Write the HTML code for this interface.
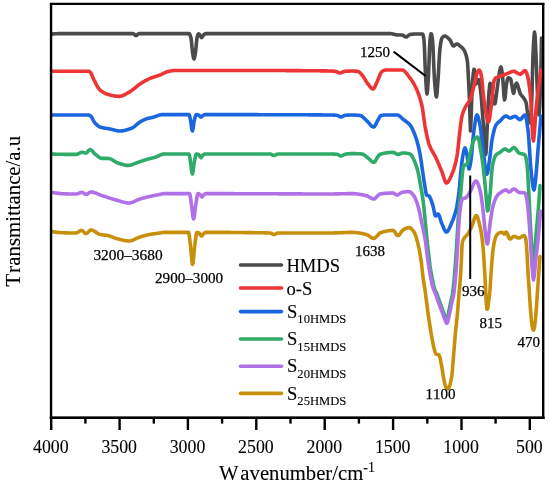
<!DOCTYPE html>
<html><head><meta charset="utf-8"><title>FTIR spectra</title>
<style>html,body{margin:0;padding:0;background:#fff}svg{display:block}</style></head>
<body>
<svg width="550" height="486" viewBox="0 0 550 486">
<rect width="550" height="486" fill="#fff"/>
<path d="M52.0,34.0 L52.5,34.0 L53.0,33.9 L53.5,33.9 L54.0,33.9 L54.5,33.8 L55.0,33.8 L55.5,33.8 L56.0,33.7 L56.5,33.7 L57.0,33.7 L57.5,33.7 L58.0,33.6 L58.5,33.6 L59.0,33.6 L59.5,33.6 L60.0,33.6 L60.5,33.6 L61.0,33.6 L61.5,33.6 L62.0,33.6 L62.5,33.6 L63.0,33.6 L63.5,33.6 L64.0,33.6 L64.5,33.6 L65.0,33.6 L65.5,33.6 L66.0,33.6 L66.5,33.6 L67.0,33.6 L67.5,33.6 L68.0,33.6 L68.5,33.6 L69.0,33.6 L69.5,33.6 L70.0,33.6 L70.5,33.6 L71.0,33.6 L71.5,33.6 L72.0,33.6 L72.5,33.6 L73.0,33.6 L73.5,33.6 L74.0,33.6 L74.5,33.6 L75.0,33.6 L75.5,33.6 L76.0,33.6 L76.5,33.6 L77.0,33.6 L77.5,33.6 L78.0,33.6 L78.5,33.6 L79.0,33.6 L79.5,33.6 L80.0,33.6 L80.5,33.6 L81.0,33.6 L81.5,33.6 L82.0,33.6 L82.5,33.6 L83.0,33.6 L83.5,33.6 L84.0,33.6 L84.5,33.6 L85.0,33.6 L85.5,33.6 L86.0,33.6 L86.5,33.6 L87.0,33.6 L87.5,33.6 L88.0,33.6 L88.5,33.6 L89.0,33.6 L89.5,33.6 L90.0,33.6 L90.5,33.6 L91.0,33.6 L91.5,33.6 L92.0,33.6 L92.5,33.6 L93.0,33.6 L93.5,33.6 L94.0,33.6 L94.5,33.6 L95.0,33.6 L95.5,33.6 L96.0,33.6 L96.5,33.6 L97.0,33.6 L97.5,33.6 L98.0,33.6 L98.5,33.6 L99.0,33.6 L99.5,33.6 L100.0,33.6 L100.5,33.6 L101.0,33.6 L101.5,33.6 L102.0,33.6 L102.5,33.6 L103.0,33.6 L103.5,33.6 L104.0,33.6 L104.5,33.6 L105.0,33.6 L105.5,33.6 L106.0,33.6 L106.5,33.6 L107.0,33.6 L107.5,33.6 L108.0,33.6 L108.5,33.6 L109.0,33.6 L109.5,33.6 L110.0,33.6 L110.5,33.6 L111.0,33.6 L111.5,33.6 L112.0,33.6 L112.5,33.6 L113.0,33.6 L113.5,33.6 L114.0,33.6 L114.5,33.6 L115.0,33.6 L115.5,33.6 L116.0,33.6 L116.5,33.6 L117.0,33.6 L117.5,33.6 L118.0,33.6 L118.5,33.6 L119.0,33.6 L119.5,33.6 L120.0,33.6 L120.5,33.6 L121.0,33.6 L121.5,33.6 L122.0,33.6 L122.5,33.6 L123.0,33.6 L123.5,33.6 L124.0,33.6 L124.5,33.6 L125.0,33.6 L125.5,33.6 L126.0,33.6 L126.5,33.6 L127.0,33.6 L127.5,33.6 L128.0,33.6 L128.5,33.6 L129.0,33.6 L129.5,33.6 L130.0,33.6 L130.5,33.6 L131.0,33.6 L131.5,33.6 L132.0,33.6 L132.5,33.6 L133.0,33.6 L133.5,33.7 L134.0,34.1 L134.5,34.6 L135.0,35.1 L135.5,35.5 L136.0,35.6 L136.5,35.5 L137.0,35.1 L137.5,34.6 L138.0,34.1 L138.5,33.7 L139.0,33.6 L139.5,33.6 L140.0,33.6 L140.5,33.6 L141.0,33.6 L141.5,33.6 L142.0,33.6 L142.5,33.6 L143.0,33.6 L143.5,33.6 L144.0,33.6 L144.5,33.6 L145.0,33.6 L145.5,33.6 L146.0,33.6 L146.5,33.6 L147.0,33.6 L147.5,33.6 L148.0,33.6 L148.5,33.6 L149.0,33.6 L149.5,33.6 L150.0,33.6 L150.5,33.6 L151.0,33.6 L151.5,33.6 L152.0,33.6 L152.5,33.6 L153.0,33.6 L153.5,33.6 L154.0,33.6 L154.5,33.6 L155.0,33.6 L155.5,33.6 L156.0,33.6 L156.5,33.6 L157.0,33.6 L157.5,33.6 L158.0,33.6 L158.5,33.6 L159.0,33.6 L159.5,33.6 L160.0,33.6 L160.5,33.6 L161.0,33.6 L161.5,33.6 L162.0,33.6 L162.5,33.6 L163.0,33.6 L163.5,33.6 L164.0,33.6 L164.5,33.6 L165.0,33.6 L165.5,33.6 L166.0,33.6 L166.5,33.6 L167.0,33.6 L167.5,33.6 L168.0,33.6 L168.5,33.6 L169.0,33.6 L169.5,33.6 L170.0,33.6 L170.5,33.6 L171.0,33.6 L171.5,33.6 L172.0,33.6 L172.5,33.6 L173.0,33.6 L173.5,33.6 L174.0,33.6 L174.5,33.6 L175.0,33.6 L175.5,33.6 L176.0,33.6 L176.5,33.6 L177.0,33.6 L177.5,33.6 L178.0,33.6 L178.5,33.6 L179.0,33.6 L179.5,33.6 L180.0,33.6 L180.5,33.6 L181.0,33.6 L181.5,33.6 L182.0,33.6 L182.5,33.6 L183.0,33.6 L183.5,33.6 L184.0,33.6 L184.5,33.6 L185.0,33.6 L185.5,33.6 L186.0,33.6 L186.5,33.6 L187.0,33.6 L187.5,33.6 L188.0,33.6 L188.5,33.6 L189.0,33.6 L189.5,33.9 L190.0,34.9 L190.5,36.3 L191.0,38.0 L191.5,41.8 L192.0,47.4 L192.5,52.0 L193.0,55.2 L193.5,57.9 L194.0,59.0 L194.5,57.9 L195.0,55.2 L195.5,52.0 L196.0,47.5 L196.5,41.9 L197.0,38.0 L197.5,36.0 L198.0,34.4 L198.5,33.8 L199.0,34.0 L199.5,34.5 L200.0,35.0 L200.5,35.9 L201.0,36.9 L201.5,37.6 L202.0,37.4 L202.5,36.6 L203.0,35.7 L203.5,35.0 L204.0,34.6 L204.5,34.2 L205.0,33.9 L205.5,33.7 L206.0,33.6 L206.5,33.6 L207.0,33.6 L207.5,33.6 L208.0,33.6 L208.5,33.6 L209.0,33.6 L209.5,33.6 L210.0,33.6 L210.5,33.6 L211.0,33.6 L211.5,33.6 L212.0,33.6 L212.5,33.6 L213.0,33.6 L213.5,33.6 L214.0,33.6 L214.5,33.6 L215.0,33.6 L215.5,33.6 L216.0,33.6 L216.5,33.6 L217.0,33.6 L217.5,33.6 L218.0,33.6 L218.5,33.6 L219.0,33.6 L219.5,33.6 L220.0,33.6 L220.5,33.6 L221.0,33.6 L221.5,33.6 L222.0,33.6 L222.5,33.6 L223.0,33.6 L223.5,33.6 L224.0,33.6 L224.5,33.6 L225.0,33.6 L225.5,33.6 L226.0,33.6 L226.5,33.6 L227.0,33.6 L227.5,33.6 L228.0,33.6 L228.5,33.6 L229.0,33.6 L229.5,33.6 L230.0,33.6 L230.5,33.6 L231.0,33.6 L231.5,33.6 L232.0,33.6 L232.5,33.6 L233.0,33.6 L233.5,33.6 L234.0,33.6 L234.5,33.6 L235.0,33.6 L235.5,33.6 L236.0,33.6 L236.5,33.6 L237.0,33.6 L237.5,33.6 L238.0,33.6 L238.5,33.6 L239.0,33.6 L239.5,33.6 L240.0,33.6 L240.5,33.6 L241.0,33.6 L241.5,33.6 L242.0,33.6 L242.5,33.6 L243.0,33.6 L243.5,33.6 L244.0,33.6 L244.5,33.6 L245.0,33.6 L245.5,33.6 L246.0,33.6 L246.5,33.6 L247.0,33.6 L247.5,33.6 L248.0,33.6 L248.5,33.6 L249.0,33.6 L249.5,33.6 L250.0,33.6 L250.5,33.6 L251.0,33.6 L251.5,33.6 L252.0,33.6 L252.5,33.6 L253.0,33.6 L253.5,33.6 L254.0,33.6 L254.5,33.6 L255.0,33.6 L255.5,33.6 L256.0,33.6 L256.5,33.6 L257.0,33.6 L257.5,33.6 L258.0,33.6 L258.5,33.6 L259.0,33.6 L259.5,33.6 L260.0,33.6 L260.5,33.6 L261.0,33.6 L261.5,33.6 L262.0,33.6 L262.5,33.6 L263.0,33.6 L263.5,33.6 L264.0,33.6 L264.5,33.6 L265.0,33.6 L265.5,33.6 L266.0,33.6 L266.5,33.6 L267.0,33.6 L267.5,33.6 L268.0,33.6 L268.5,33.6 L269.0,33.6 L269.5,33.6 L270.0,33.6 L270.5,33.6 L271.0,33.6 L271.5,33.6 L272.0,33.6 L272.5,33.6 L273.0,33.6 L273.5,33.6 L274.0,33.6 L274.5,33.6 L275.0,33.6 L275.5,33.6 L276.0,33.6 L276.5,33.6 L277.0,33.6 L277.5,33.6 L278.0,33.6 L278.5,33.6 L279.0,33.6 L279.5,33.6 L280.0,33.6 L280.5,33.6 L281.0,33.6 L281.5,33.6 L282.0,33.6 L282.5,33.6 L283.0,33.6 L283.5,33.6 L284.0,33.6 L284.5,33.6 L285.0,33.6 L285.5,33.6 L286.0,33.6 L286.5,33.6 L287.0,33.6 L287.5,33.6 L288.0,33.6 L288.5,33.6 L289.0,33.6 L289.5,33.6 L290.0,33.6 L290.5,33.6 L291.0,33.6 L291.5,33.6 L292.0,33.6 L292.5,33.6 L293.0,33.6 L293.5,33.6 L294.0,33.6 L294.5,33.6 L295.0,33.6 L295.5,33.6 L296.0,33.6 L296.5,33.6 L297.0,33.6 L297.5,33.6 L298.0,33.6 L298.5,33.6 L299.0,33.6 L299.5,33.6 L300.0,33.6 L300.5,33.6 L301.0,33.6 L301.5,33.6 L302.0,33.6 L302.5,33.6 L303.0,33.6 L303.5,33.6 L304.0,33.6 L304.5,33.6 L305.0,33.6 L305.5,33.6 L306.0,33.6 L306.5,33.6 L307.0,33.6 L307.5,33.6 L308.0,33.6 L308.5,33.6 L309.0,33.6 L309.5,33.6 L310.0,33.6 L310.5,33.6 L311.0,33.6 L311.5,33.6 L312.0,33.6 L312.5,33.6 L313.0,33.6 L313.5,33.6 L314.0,33.6 L314.5,33.6 L315.0,33.6 L315.5,33.6 L316.0,33.6 L316.5,33.6 L317.0,33.6 L317.5,33.6 L318.0,33.6 L318.5,33.6 L319.0,33.6 L319.5,33.6 L320.0,33.6 L320.5,33.6 L321.0,33.6 L321.5,33.6 L322.0,33.6 L322.5,33.6 L323.0,33.6 L323.5,33.6 L324.0,33.6 L324.5,33.6 L325.0,33.6 L325.5,33.6 L326.0,33.6 L326.5,33.6 L327.0,33.6 L327.5,33.6 L328.0,33.6 L328.5,33.6 L329.0,33.6 L329.5,33.6 L330.0,33.6 L330.5,33.6 L331.0,33.6 L331.5,33.6 L332.0,33.6 L332.5,33.6 L333.0,33.6 L333.5,33.6 L334.0,33.6 L334.5,33.6 L335.0,33.6 L335.5,33.6 L336.0,33.6 L336.5,33.6 L337.0,33.6 L337.5,33.6 L338.0,33.6 L338.5,33.6 L339.0,33.6 L339.5,33.6 L340.0,33.6 L340.5,33.6 L341.0,33.6 L341.5,33.6 L342.0,33.6 L342.5,33.6 L343.0,33.6 L343.5,33.6 L344.0,33.6 L344.5,33.6 L345.0,33.6 L345.5,33.6 L346.0,33.6 L346.5,33.6 L347.0,33.6 L347.5,33.6 L348.0,33.6 L348.5,33.6 L349.0,33.6 L349.5,33.6 L350.0,33.6 L350.5,33.6 L351.0,33.6 L351.5,33.6 L352.0,33.6 L352.5,33.6 L353.0,33.6 L353.5,33.6 L354.0,33.6 L354.5,33.6 L355.0,33.6 L355.5,33.6 L356.0,33.6 L356.5,33.6 L357.0,33.6 L357.5,33.6 L358.0,33.6 L358.5,33.6 L359.0,33.6 L359.5,33.6 L360.0,33.6 L360.5,33.6 L361.0,33.6 L361.5,33.6 L362.0,33.6 L362.5,33.6 L363.0,33.6 L363.5,33.6 L364.0,33.6 L364.5,33.6 L365.0,33.6 L365.5,33.6 L366.0,33.6 L366.5,33.6 L367.0,33.6 L367.5,33.6 L368.0,33.6 L368.5,33.6 L369.0,33.6 L369.5,33.6 L370.0,33.6 L370.5,33.6 L371.0,33.6 L371.5,33.6 L372.0,33.6 L372.5,33.6 L373.0,33.6 L373.5,33.6 L374.0,33.6 L374.5,33.6 L375.0,33.6 L375.5,33.6 L376.0,33.6 L376.5,33.6 L377.0,33.6 L377.5,33.6 L378.0,33.6 L378.5,33.6 L379.0,33.6 L379.5,33.6 L380.0,33.6 L380.5,33.6 L381.0,33.6 L381.5,33.6 L382.0,33.6 L382.5,33.6 L383.0,33.6 L383.5,33.6 L384.0,33.6 L384.5,33.6 L385.0,33.6 L385.5,33.6 L386.0,33.6 L386.5,33.6 L387.0,33.6 L387.5,33.6 L388.0,33.6 L388.5,33.6 L389.0,33.6 L389.5,33.6 L390.0,33.6 L390.5,33.6 L391.0,33.7 L391.5,33.7 L392.0,33.8 L392.5,33.9 L393.0,34.0 L393.5,34.2 L394.0,34.3 L394.5,34.4 L395.0,34.6 L395.5,34.7 L396.0,34.8 L396.5,34.9 L397.0,34.9 L397.5,35.0 L398.0,35.0 L398.5,35.0 L399.0,35.0 L399.5,35.0 L400.0,35.0 L400.5,35.0 L401.0,35.0 L401.5,35.0 L402.0,35.0 L402.5,35.1 L403.0,35.3 L403.5,35.6 L404.0,36.0 L404.5,36.4 L405.0,36.7 L405.5,36.9 L406.0,37.0 L406.5,36.9 L407.0,36.6 L407.5,36.3 L408.0,35.8 L408.5,35.4 L409.0,35.0 L409.5,34.7 L410.0,34.5 L410.5,34.4 L411.0,34.4 L411.5,34.3 L412.0,34.2 L412.5,34.2 L413.0,34.1 L413.5,34.1 L414.0,34.1 L414.5,34.0 L415.0,34.0 L415.5,34.0 L416.0,34.0 L416.5,34.0 L417.0,34.0 L417.5,34.0 L418.0,34.0 L418.5,34.0 L419.0,34.0 L419.5,34.0 L420.0,34.0 L420.5,34.0 L421.0,34.0 L421.5,34.0 L422.0,34.0 L422.5,34.0 L423.0,34.8 L423.5,36.9 L424.0,40.0 L424.5,48.8 L425.0,63.0 L425.5,75.0 L426.0,83.6 L426.5,90.9 L427.0,94.0 L427.5,90.9 L428.0,83.6 L428.5,75.0 L429.0,63.2 L429.5,49.1 L430.0,40.0 L430.5,36.1 L431.0,33.8 L431.5,34.1 L432.0,36.5 L432.5,40.0 L433.0,47.2 L433.5,58.8 L434.0,71.0 L434.5,80.0 L435.0,86.3 L435.5,91.9 L436.0,95.9 L436.5,96.9 L437.0,93.4 L437.5,86.9 L438.0,80.0 L438.5,72.1 L439.0,62.7 L439.5,54.0 L440.0,48.0 L440.5,44.4 L441.0,41.4 L441.5,39.2 L442.0,38.0 L442.5,37.4 L443.0,36.9 L443.5,36.5 L444.0,36.2 L444.5,36.1 L445.0,36.0 L445.5,36.1 L446.0,36.3 L446.5,36.7 L447.0,37.1 L447.5,37.6 L448.0,38.0 L448.5,38.4 L449.0,38.9 L449.5,39.4 L450.0,40.0 L450.5,40.8 L451.0,41.8 L451.5,42.9 L452.0,44.0 L452.5,44.9 L453.0,45.7 L453.5,46.0 L454.0,45.9 L454.5,45.4 L455.0,45.0 L455.5,44.7 L456.0,44.4 L456.5,44.1 L457.0,44.0 L457.5,44.1 L458.0,44.3 L458.5,44.7 L459.0,45.1 L459.5,45.6 L460.0,46.0 L460.5,46.4 L461.0,46.8 L461.5,47.2 L462.0,47.6 L462.5,48.1 L463.0,48.7 L463.5,49.3 L464.0,50.0 L464.5,50.9 L465.0,52.0 L465.5,53.4 L466.0,55.0 L466.5,56.7 L467.0,58.8 L467.5,62.0 L468.0,69.6 L468.5,80.0 L469.0,89.3 L469.5,100.0 L470.0,118.5 L470.5,131.0 L471.0,121.1 L471.5,105.0 L472.0,91.9 L472.5,82.0 L473.0,76.3 L473.5,71.8 L474.0,69.2 L474.5,70.1 L475.0,75.3 L475.5,81.2 L476.0,84.0 L476.5,83.5 L477.0,82.6 L477.5,81.6 L478.0,80.5 L478.5,79.6 L479.0,80.0 L479.5,82.4 L480.0,86.0 L480.5,90.0 L481.0,94.6 L481.5,100.3 L482.0,106.8 L482.5,113.5 L483.0,120.0 L483.5,127.3 L484.0,135.8 L484.5,144.1 L485.0,150.8 L485.5,154.6 L486.0,153.2 L486.5,144.2 L487.0,131.6 L487.5,120.0 L488.0,109.7 L488.5,99.5 L489.0,92.0 L489.5,86.8 L490.0,83.4 L490.5,83.5 L491.0,85.8 L491.5,89.1 L492.0,92.0 L492.5,94.7 L493.0,97.6 L493.5,100.4 L494.0,102.6 L494.5,103.9 L495.0,103.6 L495.5,101.3 L496.0,97.7 L496.5,93.7 L497.0,90.0 L497.5,86.4 L498.0,82.4 L498.5,78.3 L499.0,74.8 L499.5,72.0 L500.0,69.7 L500.5,67.8 L501.0,67.0 L501.5,68.5 L502.0,71.9 L502.5,76.0 L503.0,81.7 L503.5,89.3 L504.0,96.2 L504.5,99.9 L505.0,98.5 L505.5,93.8 L506.0,88.1 L506.5,84.0 L507.0,81.4 L507.5,79.2 L508.0,77.9 L508.5,77.8 L509.0,77.9 L509.5,78.2 L510.0,78.5 L510.5,78.9 L511.0,80.2 L511.5,83.1 L512.0,86.0 L512.5,88.9 L513.0,91.7 L513.5,93.3 L514.0,92.4 L514.5,89.5 L515.0,87.0 L515.5,85.4 L516.0,84.0 L516.5,83.2 L517.0,83.6 L517.5,84.8 L518.0,86.4 L518.5,88.0 L519.0,89.6 L519.5,91.4 L520.0,92.9 L520.5,94.0 L521.0,94.7 L521.5,95.4 L522.0,96.0 L522.5,96.5 L523.0,97.1 L523.5,97.7 L524.0,98.5 L524.5,99.3 L525.0,100.1 L525.5,101.1 L526.0,102.4 L526.5,104.7 L527.0,109.0 L527.5,112.5 L528.0,115.2 L528.5,117.8 L529.0,120.0 L529.5,121.8 L530.0,122.8 L530.5,122.4 L531.0,116.4 L531.5,107.0 L532.0,92.7 L532.5,71.6 L533.0,55.0 L533.5,44.8 L534.0,36.4 L534.5,32.1 L535.0,34.9 L535.5,44.1 L536.0,55.0 L536.5,67.9 L537.0,82.9 L537.5,95.0 L538.0,104.1 L538.5,111.8 L539.0,115.0 L539.5,110.4 L540.0,99.8 L540.5,86.1 L541.0,64.9 L541.5,38.0" fill="none" stroke="#4b4b4b" stroke-width="3.6" stroke-linejoin="round" stroke-linecap="round"/>
<path d="M52.0,71.2 L52.5,71.2 L53.0,71.2 L53.5,71.2 L54.0,71.2 L54.5,71.2 L55.0,71.2 L55.5,71.2 L56.0,71.2 L56.5,71.2 L57.0,71.2 L57.5,71.2 L58.0,71.2 L58.5,71.2 L59.0,71.2 L59.5,71.2 L60.0,71.2 L60.5,71.2 L61.0,71.2 L61.5,71.2 L62.0,71.2 L62.5,71.2 L63.0,71.2 L63.5,71.2 L64.0,71.2 L64.5,71.2 L65.0,71.2 L65.5,71.2 L66.0,71.2 L66.5,71.2 L67.0,71.2 L67.5,71.2 L68.0,71.2 L68.5,71.2 L69.0,71.2 L69.5,71.2 L70.0,71.2 L70.5,71.2 L71.0,71.2 L71.5,71.2 L72.0,71.2 L72.5,71.2 L73.0,71.2 L73.5,71.2 L74.0,71.2 L74.5,71.2 L75.0,71.2 L75.5,71.2 L76.0,71.2 L76.5,71.2 L77.0,71.2 L77.5,71.2 L78.0,71.2 L78.5,71.2 L79.0,71.2 L79.5,71.2 L80.0,71.2 L80.5,71.2 L81.0,71.2 L81.5,71.2 L82.0,71.2 L82.5,71.2 L83.0,71.2 L83.5,71.2 L84.0,71.2 L84.5,71.2 L85.0,71.2 L85.5,71.2 L86.0,71.2 L86.5,71.2 L87.0,71.2 L87.5,71.2 L88.0,71.2 L88.5,71.3 L89.0,71.4 L89.5,71.7 L90.0,72.0 L90.5,72.5 L91.0,73.3 L91.5,74.3 L92.0,75.4 L92.5,76.6 L93.0,77.8 L93.5,79.0 L94.0,80.0 L94.5,80.9 L95.0,81.9 L95.5,82.9 L96.0,83.8 L96.5,84.8 L97.0,85.7 L97.5,86.6 L98.0,87.5 L98.5,88.2 L99.0,88.9 L99.5,89.5 L100.0,90.0 L100.5,90.4 L101.0,90.8 L101.5,91.2 L102.0,91.5 L102.5,91.9 L103.0,92.2 L103.5,92.5 L104.0,92.8 L104.5,93.0 L105.0,93.3 L105.5,93.5 L106.0,93.7 L106.5,93.9 L107.0,94.1 L107.5,94.3 L108.0,94.4 L108.5,94.5 L109.0,94.7 L109.5,94.8 L110.0,95.0 L110.5,95.1 L111.0,95.2 L111.5,95.3 L112.0,95.5 L112.5,95.6 L113.0,95.7 L113.5,95.8 L114.0,95.9 L114.5,96.0 L115.0,96.1 L115.5,96.1 L116.0,96.2 L116.5,96.3 L117.0,96.3 L117.5,96.3 L118.0,96.4 L118.5,96.4 L119.0,96.4 L119.5,96.4 L120.0,96.3 L120.5,96.3 L121.0,96.1 L121.5,96.0 L122.0,95.9 L122.5,95.7 L123.0,95.5 L123.5,95.3 L124.0,95.0 L124.5,94.8 L125.0,94.5 L125.5,94.2 L126.0,93.9 L126.5,93.7 L127.0,93.4 L127.5,93.1 L128.0,92.8 L128.5,92.5 L129.0,92.2 L129.5,91.9 L130.0,91.6 L130.5,91.3 L131.0,91.0 L131.5,90.7 L132.0,90.3 L132.5,89.9 L133.0,89.5 L133.5,89.1 L134.0,88.7 L134.5,88.3 L135.0,87.9 L135.5,87.5 L136.0,87.1 L136.5,86.7 L137.0,86.2 L137.5,85.8 L138.0,85.4 L138.5,85.1 L139.0,84.7 L139.5,84.3 L140.0,84.0 L140.5,83.7 L141.0,83.4 L141.5,83.0 L142.0,82.7 L142.5,82.4 L143.0,82.1 L143.5,81.8 L144.0,81.5 L144.5,81.2 L145.0,80.9 L145.5,80.6 L146.0,80.4 L146.5,80.1 L147.0,79.8 L147.5,79.6 L148.0,79.3 L148.5,79.1 L149.0,78.8 L149.5,78.6 L150.0,78.4 L150.5,78.2 L151.0,78.0 L151.5,77.8 L152.0,77.6 L152.5,77.5 L153.0,77.3 L153.5,77.1 L154.0,77.0 L154.5,76.8 L155.0,76.7 L155.5,76.5 L156.0,76.3 L156.5,76.2 L157.0,76.0 L157.5,75.9 L158.0,75.7 L158.5,75.5 L159.0,75.4 L159.5,75.2 L160.0,75.0 L160.5,74.8 L161.0,74.6 L161.5,74.3 L162.0,74.1 L162.5,73.8 L163.0,73.6 L163.5,73.3 L164.0,73.1 L164.5,72.8 L165.0,72.6 L165.5,72.4 L166.0,72.1 L166.5,71.9 L167.0,71.8 L167.5,71.6 L168.0,71.5 L168.5,71.4 L169.0,71.3 L169.5,71.2 L170.0,71.1 L170.5,71.0 L171.0,70.9 L171.5,70.8 L172.0,70.7 L172.5,70.7 L173.0,70.6 L173.5,70.6 L174.0,70.5 L174.5,70.5 L175.0,70.5 L175.5,70.5 L176.0,70.5 L176.5,70.5 L177.0,70.5 L177.5,70.5 L178.0,70.5 L178.5,70.5 L179.0,70.5 L179.5,70.5 L180.0,70.5 L180.5,70.5 L181.0,70.5 L181.5,70.5 L182.0,70.5 L182.5,70.5 L183.0,70.5 L183.5,70.5 L184.0,70.5 L184.5,70.5 L185.0,70.5 L185.5,70.5 L186.0,70.5 L186.5,70.5 L187.0,70.5 L187.5,70.5 L188.0,70.5 L188.5,70.5 L189.0,70.5 L189.5,70.5 L190.0,70.5 L190.5,70.5 L191.0,70.5 L191.5,70.5 L192.0,70.5 L192.5,70.5 L193.0,70.5 L193.5,70.5 L194.0,70.5 L194.5,70.5 L195.0,70.5 L195.5,70.5 L196.0,70.5 L196.5,70.5 L197.0,70.5 L197.5,70.5 L198.0,70.5 L198.5,70.5 L199.0,70.5 L199.5,70.5 L200.0,70.5 L200.5,70.5 L201.0,70.5 L201.5,70.5 L202.0,70.5 L202.5,70.5 L203.0,70.5 L203.5,70.5 L204.0,70.5 L204.5,70.5 L205.0,70.5 L205.5,70.5 L206.0,70.5 L206.5,70.5 L207.0,70.5 L207.5,70.5 L208.0,70.5 L208.5,70.5 L209.0,70.5 L209.5,70.5 L210.0,70.5 L210.5,70.5 L211.0,70.5 L211.5,70.5 L212.0,70.5 L212.5,70.5 L213.0,70.5 L213.5,70.5 L214.0,70.5 L214.5,70.5 L215.0,70.5 L215.5,70.5 L216.0,70.5 L216.5,70.5 L217.0,70.5 L217.5,70.5 L218.0,70.5 L218.5,70.5 L219.0,70.5 L219.5,70.5 L220.0,70.5 L220.5,70.5 L221.0,70.5 L221.5,70.5 L222.0,70.5 L222.5,70.5 L223.0,70.5 L223.5,70.5 L224.0,70.5 L224.5,70.5 L225.0,70.5 L225.5,70.5 L226.0,70.5 L226.5,70.5 L227.0,70.5 L227.5,70.5 L228.0,70.5 L228.5,70.5 L229.0,70.5 L229.5,70.5 L230.0,70.5 L230.5,70.5 L231.0,70.5 L231.5,70.5 L232.0,70.5 L232.5,70.5 L233.0,70.5 L233.5,70.5 L234.0,70.5 L234.5,70.5 L235.0,70.5 L235.5,70.5 L236.0,70.5 L236.5,70.5 L237.0,70.5 L237.5,70.5 L238.0,70.5 L238.5,70.5 L239.0,70.5 L239.5,70.5 L240.0,70.5 L240.5,70.5 L241.0,70.5 L241.5,70.5 L242.0,70.5 L242.5,70.5 L243.0,70.5 L243.5,70.5 L244.0,70.5 L244.5,70.5 L245.0,70.5 L245.5,70.5 L246.0,70.5 L246.5,70.5 L247.0,70.5 L247.5,70.5 L248.0,70.5 L248.5,70.5 L249.0,70.5 L249.5,70.5 L250.0,70.5 L250.5,70.5 L251.0,70.5 L251.5,70.5 L252.0,70.5 L252.5,70.5 L253.0,70.5 L253.5,70.5 L254.0,70.5 L254.5,70.5 L255.0,70.5 L255.5,70.5 L256.0,70.5 L256.5,70.5 L257.0,70.5 L257.5,70.5 L258.0,70.5 L258.5,70.5 L259.0,70.5 L259.5,70.5 L260.0,70.5 L260.5,70.5 L261.0,70.5 L261.5,70.5 L262.0,70.5 L262.5,70.5 L263.0,70.5 L263.5,70.5 L264.0,70.5 L264.5,70.5 L265.0,70.5 L265.5,70.5 L266.0,70.5 L266.5,70.5 L267.0,70.5 L267.5,70.5 L268.0,70.5 L268.5,70.5 L269.0,70.5 L269.5,70.5 L270.0,70.5 L270.5,70.5 L271.0,70.5 L271.5,70.5 L272.0,70.5 L272.5,70.5 L273.0,70.5 L273.5,70.5 L274.0,70.5 L274.5,70.5 L275.0,70.5 L275.5,70.5 L276.0,70.5 L276.5,70.5 L277.0,70.5 L277.5,70.5 L278.0,70.5 L278.5,70.5 L279.0,70.5 L279.5,70.5 L280.0,70.5 L280.5,70.5 L281.0,70.5 L281.5,70.5 L282.0,70.5 L282.5,70.5 L283.0,70.5 L283.5,70.5 L284.0,70.5 L284.5,70.5 L285.0,70.5 L285.5,70.5 L286.0,70.6 L286.5,70.6 L287.0,70.6 L287.5,70.6 L288.0,70.6 L288.5,70.6 L289.0,70.6 L289.5,70.6 L290.0,70.6 L290.5,70.6 L291.0,70.6 L291.5,70.6 L292.0,70.6 L292.5,70.6 L293.0,70.6 L293.5,70.6 L294.0,70.6 L294.5,70.6 L295.0,70.6 L295.5,70.6 L296.0,70.6 L296.5,70.6 L297.0,70.6 L297.5,70.6 L298.0,70.6 L298.5,70.6 L299.0,70.6 L299.5,70.6 L300.0,70.6 L300.5,70.6 L301.0,70.6 L301.5,70.6 L302.0,70.7 L302.5,70.7 L303.0,70.7 L303.5,70.7 L304.0,70.7 L304.5,70.7 L305.0,70.7 L305.5,70.7 L306.0,70.7 L306.5,70.7 L307.0,70.7 L307.5,70.7 L308.0,70.7 L308.5,70.7 L309.0,70.7 L309.5,70.7 L310.0,70.7 L310.5,70.7 L311.0,70.7 L311.5,70.7 L312.0,70.7 L312.5,70.8 L313.0,70.8 L313.5,70.8 L314.0,70.8 L314.5,70.8 L315.0,70.8 L315.5,70.8 L316.0,70.8 L316.5,70.8 L317.0,70.8 L317.5,70.8 L318.0,70.8 L318.5,70.8 L319.0,70.8 L319.5,70.8 L320.0,70.8 L320.5,70.9 L321.0,70.9 L321.5,70.9 L322.0,70.9 L322.5,70.9 L323.0,70.9 L323.5,70.9 L324.0,70.9 L324.5,70.9 L325.0,70.9 L325.5,70.9 L326.0,70.9 L326.5,70.9 L327.0,70.9 L327.5,71.0 L328.0,71.0 L328.5,71.0 L329.0,71.0 L329.5,71.0 L330.0,71.0 L330.5,71.0 L331.0,71.0 L331.5,71.1 L332.0,71.1 L332.5,71.1 L333.0,71.2 L333.5,71.2 L334.0,71.3 L334.5,71.3 L335.0,71.4 L335.5,71.4 L336.0,71.5 L336.5,71.6 L337.0,71.8 L337.5,72.1 L338.0,72.3 L338.5,72.6 L339.0,72.8 L339.5,72.9 L340.0,73.0 L340.5,72.9 L341.0,72.8 L341.5,72.6 L342.0,72.3 L342.5,72.0 L343.0,71.8 L343.5,71.6 L344.0,71.5 L344.5,71.4 L345.0,71.4 L345.5,71.3 L346.0,71.3 L346.5,71.2 L347.0,71.2 L347.5,71.2 L348.0,71.1 L348.5,71.1 L349.0,71.1 L349.5,71.1 L350.0,71.0 L350.5,71.0 L351.0,71.0 L351.5,71.0 L352.0,71.0 L352.5,71.0 L353.0,71.0 L353.5,71.0 L354.0,71.1 L354.5,71.1 L355.0,71.1 L355.5,71.2 L356.0,71.2 L356.5,71.3 L357.0,71.4 L357.5,71.4 L358.0,71.5 L358.5,71.7 L359.0,71.9 L359.5,72.3 L360.0,72.8 L360.5,73.3 L361.0,73.9 L361.5,74.4 L362.0,75.0 L362.5,75.6 L363.0,76.3 L363.5,77.0 L364.0,77.8 L364.5,78.6 L365.0,79.4 L365.5,80.3 L366.0,81.1 L366.5,81.9 L367.0,82.7 L367.5,83.4 L368.0,84.0 L368.5,84.6 L369.0,85.3 L369.5,86.0 L370.0,86.6 L370.5,87.2 L371.0,87.8 L371.5,88.3 L372.0,88.7 L372.5,88.9 L373.0,89.0 L373.5,88.8 L374.0,88.3 L374.5,87.5 L375.0,86.5 L375.5,85.3 L376.0,84.2 L376.5,83.0 L377.0,82.0 L377.5,81.0 L378.0,79.8 L378.5,78.5 L379.0,77.2 L379.5,75.9 L380.0,74.7 L380.5,73.6 L381.0,72.7 L381.5,72.0 L382.0,71.5 L382.5,71.2 L383.0,70.9 L383.5,70.7 L384.0,70.4 L384.5,70.3 L385.0,70.1 L385.5,70.0 L386.0,70.0 L386.5,70.0 L387.0,70.0 L387.5,70.0 L388.0,70.0 L388.5,70.0 L389.0,70.0 L389.5,70.0 L390.0,70.0 L390.5,70.0 L391.0,70.0 L391.5,70.0 L392.0,70.0 L392.5,70.0 L393.0,70.0 L393.5,70.0 L394.0,70.0 L394.5,70.0 L395.0,70.0 L395.5,70.0 L396.0,70.0 L396.5,70.0 L397.0,70.0 L397.5,70.0 L398.0,70.0 L398.5,70.0 L399.0,70.0 L399.5,70.0 L400.0,70.0 L400.5,70.0 L401.0,70.0 L401.5,70.0 L402.0,70.0 L402.5,70.1 L403.0,70.2 L403.5,70.4 L404.0,70.8 L404.5,71.2 L405.0,71.6 L405.5,72.2 L406.0,72.7 L406.5,73.3 L407.0,74.0 L407.5,74.6 L408.0,75.3 L408.5,76.0 L409.0,76.7 L409.5,77.4 L410.0,78.0 L410.5,78.6 L411.0,79.3 L411.5,80.0 L412.0,80.8 L412.5,81.5 L413.0,82.3 L413.5,83.2 L414.0,84.1 L414.5,85.0 L415.0,85.9 L415.5,87.0 L416.0,88.0 L416.5,89.1 L417.0,90.2 L417.5,91.4 L418.0,92.7 L418.5,94.0 L419.0,95.4 L419.5,96.9 L420.0,98.4 L420.5,100.1 L421.0,102.0 L421.5,103.9 L422.0,106.0 L422.5,108.6 L423.0,111.9 L423.5,115.6 L424.0,119.4 L424.5,122.9 L425.0,126.0 L425.5,128.7 L426.0,131.3 L426.5,133.9 L427.0,136.3 L427.5,138.5 L428.0,140.6 L428.5,142.4 L429.0,144.0 L429.5,145.4 L430.0,146.6 L430.5,147.8 L431.0,148.8 L431.5,149.8 L432.0,150.7 L432.5,151.6 L433.0,152.5 L433.5,153.3 L434.0,154.2 L434.5,155.1 L435.0,156.0 L435.5,157.0 L436.0,158.0 L436.5,159.1 L437.0,160.2 L437.5,161.3 L438.0,162.5 L438.5,163.6 L439.0,164.8 L439.5,166.0 L440.0,167.2 L440.5,168.4 L441.0,169.6 L441.5,170.8 L442.0,172.0 L442.5,173.3 L443.0,174.9 L443.5,176.5 L444.0,178.2 L444.5,179.7 L445.0,181.1 L445.5,182.2 L446.0,182.8 L446.5,183.0 L447.0,182.8 L447.5,182.5 L448.0,181.9 L448.5,181.3 L449.0,180.4 L449.5,179.5 L450.0,178.5 L450.5,177.4 L451.0,176.3 L451.5,175.1 L452.0,174.0 L452.5,172.8 L453.0,171.5 L453.5,170.1 L454.0,168.6 L454.5,166.9 L455.0,165.1 L455.5,163.1 L456.0,160.9 L456.5,158.5 L457.0,156.0 L457.5,152.8 L458.0,148.6 L458.5,143.9 L459.0,139.0 L459.5,134.2 L460.0,130.0 L460.5,126.0 L461.0,122.0 L461.5,118.6 L462.0,116.0 L462.5,114.2 L463.0,112.6 L463.5,111.2 L464.0,110.0 L464.5,108.9 L465.0,107.9 L465.5,106.9 L466.0,106.0 L466.5,105.1 L467.0,104.4 L467.5,103.7 L468.0,103.1 L468.5,102.5 L469.0,101.8 L469.5,101.0 L470.0,100.0 L470.5,98.8 L471.0,97.4 L471.5,95.7 L472.0,93.9 L472.5,92.0 L473.0,90.0 L473.5,88.0 L474.0,86.0 L474.5,83.8 L475.0,81.4 L475.5,78.8 L476.0,76.5 L476.5,74.4 L477.0,73.0 L477.5,71.9 L478.0,71.0 L478.5,70.3 L479.0,70.0 L479.5,70.3 L480.0,71.2 L480.5,72.5 L481.0,74.0 L481.5,76.6 L482.0,80.7 L482.5,85.8 L483.0,91.1 L483.5,96.1 L484.0,100.0 L484.5,103.3 L485.0,106.6 L485.5,110.0 L486.0,113.1 L486.5,116.0 L487.0,118.4 L487.5,120.3 L488.0,121.6 L488.5,122.0 L489.0,121.1 L489.5,118.8 L490.0,115.5 L490.5,111.7 L491.0,108.0 L491.5,103.7 L492.0,98.7 L492.5,94.0 L493.0,89.4 L493.5,84.7 L494.0,81.1 L494.5,79.6 L495.0,78.8 L495.5,78.2 L496.0,77.8 L496.5,77.5 L497.0,77.3 L497.5,77.1 L498.0,76.9 L498.5,76.7 L499.0,76.5 L499.5,76.3 L500.0,76.1 L500.5,76.0 L501.0,75.8 L501.5,75.6 L502.0,75.5 L502.5,75.3 L503.0,75.1 L503.5,75.0 L504.0,74.8 L504.5,74.6 L505.0,74.4 L505.5,74.2 L506.0,74.1 L506.5,73.9 L507.0,73.7 L507.5,73.5 L508.0,73.3 L508.5,73.1 L509.0,72.9 L509.5,72.7 L510.0,72.5 L510.5,72.2 L511.0,72.0 L511.5,71.7 L512.0,71.5 L512.5,71.4 L513.0,71.3 L513.5,71.2 L514.0,71.2 L514.5,71.4 L515.0,71.7 L515.5,72.0 L516.0,72.3 L516.5,72.6 L517.0,72.9 L517.5,73.1 L518.0,73.4 L518.5,73.7 L519.0,73.9 L519.5,74.1 L520.0,74.2 L520.5,74.2 L521.0,73.9 L521.5,73.6 L522.0,73.1 L522.5,72.5 L523.0,72.0 L523.5,71.4 L524.0,71.0 L524.5,70.7 L525.0,70.6 L525.5,70.9 L526.0,71.7 L526.5,72.8 L527.0,74.2 L527.5,75.7 L528.0,77.8 L528.5,80.4 L529.0,83.6 L529.5,87.2 L530.0,91.6 L530.5,96.8 L531.0,103.0 L531.5,112.4 L532.0,124.0 L532.5,133.0 L533.0,139.0 L533.5,141.0 L534.0,136.5 L534.5,130.7 L535.0,123.8 L535.5,116.4 L536.0,110.0 L536.5,104.9 L537.0,100.3 L537.5,96.0 L538.0,92.0 L538.5,88.0 L539.0,84.1 L539.5,80.3 L540.0,76.7 L540.5,73.3 L541.0,70.0" fill="none" stroke="#ee3535" stroke-width="3.6" stroke-linejoin="round" stroke-linecap="round"/>
<path d="M52.0,115.0 L52.5,115.0 L53.0,115.0 L53.5,115.0 L54.0,115.0 L54.5,115.0 L55.0,115.0 L55.5,115.0 L56.0,115.0 L56.5,115.0 L57.0,115.0 L57.5,115.0 L58.0,115.0 L58.5,115.0 L59.0,115.0 L59.5,115.0 L60.0,115.0 L60.5,115.0 L61.0,115.0 L61.5,115.0 L62.0,115.0 L62.5,115.0 L63.0,115.0 L63.5,115.0 L64.0,115.0 L64.5,115.0 L65.0,115.0 L65.5,115.0 L66.0,115.0 L66.5,115.0 L67.0,115.0 L67.5,115.0 L68.0,115.0 L68.5,115.0 L69.0,115.0 L69.5,115.0 L70.0,115.0 L70.5,115.0 L71.0,115.0 L71.5,115.0 L72.0,115.0 L72.5,115.0 L73.0,115.0 L73.5,115.0 L74.0,115.0 L74.5,115.0 L75.0,115.0 L75.5,115.0 L76.0,115.0 L76.5,115.0 L77.0,115.0 L77.5,115.0 L78.0,115.0 L78.5,115.0 L79.0,115.0 L79.5,115.0 L80.0,115.0 L80.5,115.0 L81.0,115.0 L81.5,115.0 L82.0,115.0 L82.5,115.0 L83.0,115.0 L83.5,115.0 L84.0,115.0 L84.5,115.0 L85.0,115.0 L85.5,115.0 L86.0,115.0 L86.5,115.0 L87.0,115.0 L87.5,115.0 L88.0,115.0 L88.5,115.0 L89.0,115.2 L89.5,115.3 L90.0,115.5 L90.5,115.8 L91.0,116.4 L91.5,117.1 L92.0,117.9 L92.5,118.8 L93.0,119.8 L93.5,120.7 L94.0,121.6 L94.5,122.4 L95.0,123.0 L95.5,123.5 L96.0,124.0 L96.5,124.5 L97.0,125.0 L97.5,125.4 L98.0,125.8 L98.5,126.2 L99.0,126.5 L99.5,126.8 L100.0,127.0 L100.5,127.2 L101.0,127.3 L101.5,127.5 L102.0,127.6 L102.5,127.7 L103.0,127.8 L103.5,127.9 L104.0,128.0 L104.5,128.1 L105.0,128.2 L105.5,128.3 L106.0,128.3 L106.5,128.4 L107.0,128.5 L107.5,128.6 L108.0,128.6 L108.5,128.7 L109.0,128.8 L109.5,128.9 L110.0,129.0 L110.5,129.1 L111.0,129.2 L111.5,129.3 L112.0,129.5 L112.5,129.6 L113.0,129.7 L113.5,129.9 L114.0,130.0 L114.5,130.1 L115.0,130.2 L115.5,130.4 L116.0,130.5 L116.5,130.6 L117.0,130.7 L117.5,130.8 L118.0,130.9 L118.5,130.9 L119.0,131.0 L119.5,131.0 L120.0,131.0 L120.5,131.0 L121.0,131.0 L121.5,130.9 L122.0,130.9 L122.5,130.8 L123.0,130.7 L123.5,130.7 L124.0,130.6 L124.5,130.5 L125.0,130.3 L125.5,130.2 L126.0,130.1 L126.5,129.9 L127.0,129.8 L127.5,129.6 L128.0,129.5 L128.5,129.3 L129.0,129.1 L129.5,128.9 L130.0,128.8 L130.5,128.6 L131.0,128.4 L131.5,128.2 L132.0,128.0 L132.5,127.8 L133.0,127.5 L133.5,127.2 L134.0,126.8 L134.5,126.5 L135.0,126.1 L135.5,125.6 L136.0,125.2 L136.5,124.8 L137.0,124.3 L137.5,123.9 L138.0,123.5 L138.5,123.1 L139.0,122.7 L139.5,122.3 L140.0,122.0 L140.5,121.7 L141.0,121.4 L141.5,121.1 L142.0,120.8 L142.5,120.6 L143.0,120.3 L143.5,120.1 L144.0,119.8 L144.5,119.6 L145.0,119.4 L145.5,119.2 L146.0,119.0 L146.5,118.8 L147.0,118.7 L147.5,118.5 L148.0,118.4 L148.5,118.3 L149.0,118.2 L149.5,118.0 L150.0,117.9 L150.5,117.8 L151.0,117.7 L151.5,117.6 L152.0,117.5 L152.5,117.4 L153.0,117.3 L153.5,117.1 L154.0,117.0 L154.5,116.9 L155.0,116.7 L155.5,116.5 L156.0,116.3 L156.5,116.1 L157.0,115.9 L157.5,115.7 L158.0,115.5 L158.5,115.3 L159.0,115.2 L159.5,115.0 L160.0,114.9 L160.5,114.8 L161.0,114.7 L161.5,114.6 L162.0,114.6 L162.5,114.6 L163.0,114.6 L163.5,114.6 L164.0,114.6 L164.5,114.6 L165.0,114.6 L165.5,114.6 L166.0,114.6 L166.5,114.6 L167.0,114.6 L167.5,114.6 L168.0,114.6 L168.5,114.6 L169.0,114.6 L169.5,114.6 L170.0,114.6 L170.5,114.6 L171.0,114.6 L171.5,114.6 L172.0,114.6 L172.5,114.6 L173.0,114.6 L173.5,114.6 L174.0,114.6 L174.5,114.6 L175.0,114.6 L175.5,114.6 L176.0,114.6 L176.5,114.6 L177.0,114.6 L177.5,114.6 L178.0,114.6 L178.5,114.6 L179.0,114.6 L179.5,114.6 L180.0,114.6 L180.5,114.6 L181.0,114.6 L181.5,114.6 L182.0,114.6 L182.5,114.6 L183.0,114.6 L183.5,114.6 L184.0,114.6 L184.5,114.6 L185.0,114.6 L185.5,114.6 L186.0,114.6 L186.5,114.6 L187.0,114.6 L187.5,114.6 L188.0,114.6 L188.5,114.6 L189.0,114.6 L189.5,115.5 L190.0,117.6 L190.5,120.0 L191.0,123.1 L191.5,126.9 L192.0,130.0 L192.5,130.9 L193.0,128.9 L193.5,125.2 L194.0,121.5 L194.5,119.3 L195.0,117.5 L195.5,115.9 L196.0,114.9 L196.5,114.6 L197.0,114.6 L197.5,114.7 L198.0,114.9 L198.5,115.0 L199.0,115.3 L199.5,115.8 L200.0,116.4 L200.5,116.8 L201.0,117.0 L201.5,116.8 L202.0,116.4 L202.5,115.9 L203.0,115.5 L203.5,115.2 L204.0,114.9 L204.5,114.7 L205.0,114.6 L205.5,114.6 L206.0,114.6 L206.5,114.6 L207.0,114.6 L207.5,114.6 L208.0,114.6 L208.5,114.6 L209.0,114.6 L209.5,114.6 L210.0,114.6 L210.5,114.6 L211.0,114.6 L211.5,114.6 L212.0,114.6 L212.5,114.6 L213.0,114.6 L213.5,114.6 L214.0,114.6 L214.5,114.6 L215.0,114.6 L215.5,114.6 L216.0,114.6 L216.5,114.6 L217.0,114.6 L217.5,114.6 L218.0,114.6 L218.5,114.6 L219.0,114.6 L219.5,114.6 L220.0,114.6 L220.5,114.6 L221.0,114.6 L221.5,114.6 L222.0,114.6 L222.5,114.6 L223.0,114.6 L223.5,114.6 L224.0,114.6 L224.5,114.6 L225.0,114.6 L225.5,114.6 L226.0,114.6 L226.5,114.6 L227.0,114.6 L227.5,114.6 L228.0,114.6 L228.5,114.6 L229.0,114.6 L229.5,114.6 L230.0,114.6 L230.5,114.6 L231.0,114.6 L231.5,114.6 L232.0,114.6 L232.5,114.6 L233.0,114.6 L233.5,114.6 L234.0,114.6 L234.5,114.6 L235.0,114.6 L235.5,114.6 L236.0,114.6 L236.5,114.6 L237.0,114.6 L237.5,114.6 L238.0,114.6 L238.5,114.6 L239.0,114.6 L239.5,114.6 L240.0,114.6 L240.5,114.6 L241.0,114.6 L241.5,114.6 L242.0,114.6 L242.5,114.6 L243.0,114.6 L243.5,114.6 L244.0,114.6 L244.5,114.6 L245.0,114.6 L245.5,114.6 L246.0,114.6 L246.5,114.6 L247.0,114.6 L247.5,114.6 L248.0,114.6 L248.5,114.6 L249.0,114.6 L249.5,114.6 L250.0,114.6 L250.5,114.6 L251.0,114.6 L251.5,114.6 L252.0,114.6 L252.5,114.6 L253.0,114.6 L253.5,114.6 L254.0,114.6 L254.5,114.6 L255.0,114.6 L255.5,114.6 L256.0,114.6 L256.5,114.6 L257.0,114.6 L257.5,114.6 L258.0,114.7 L258.5,114.7 L259.0,114.7 L259.5,114.7 L260.0,114.7 L260.5,114.7 L261.0,114.7 L261.5,114.7 L262.0,114.7 L262.5,114.7 L263.0,114.7 L263.5,114.7 L264.0,114.7 L264.5,114.7 L265.0,114.7 L265.5,114.7 L266.0,114.7 L266.5,114.7 L267.0,114.7 L267.5,114.7 L268.0,114.7 L268.5,114.7 L269.0,114.7 L269.5,114.7 L270.0,114.7 L270.5,114.7 L271.0,114.7 L271.5,114.7 L272.0,114.7 L272.5,114.7 L273.0,114.7 L273.5,114.7 L274.0,114.7 L274.5,114.7 L275.0,114.7 L275.5,114.7 L276.0,114.7 L276.5,114.7 L277.0,114.7 L277.5,114.7 L278.0,114.7 L278.5,114.7 L279.0,114.7 L279.5,114.7 L280.0,114.7 L280.5,114.7 L281.0,114.7 L281.5,114.7 L282.0,114.7 L282.5,114.7 L283.0,114.7 L283.5,114.7 L284.0,114.7 L284.5,114.7 L285.0,114.7 L285.5,114.7 L286.0,114.7 L286.5,114.7 L287.0,114.7 L287.5,114.7 L288.0,114.7 L288.5,114.7 L289.0,114.8 L289.5,114.8 L290.0,114.8 L290.5,114.8 L291.0,114.8 L291.5,114.8 L292.0,114.8 L292.5,114.8 L293.0,114.8 L293.5,114.8 L294.0,114.8 L294.5,114.8 L295.0,114.8 L295.5,114.8 L296.0,114.8 L296.5,114.8 L297.0,114.8 L297.5,114.8 L298.0,114.8 L298.5,114.8 L299.0,114.8 L299.5,114.8 L300.0,114.8 L300.5,114.8 L301.0,114.8 L301.5,114.8 L302.0,114.8 L302.5,114.8 L303.0,114.8 L303.5,114.8 L304.0,114.8 L304.5,114.8 L305.0,114.8 L305.5,114.8 L306.0,114.8 L306.5,114.8 L307.0,114.8 L307.5,114.8 L308.0,114.8 L308.5,114.9 L309.0,114.9 L309.5,114.9 L310.0,114.9 L310.5,114.9 L311.0,114.9 L311.5,114.9 L312.0,114.9 L312.5,114.9 L313.0,114.9 L313.5,114.9 L314.0,114.9 L314.5,114.9 L315.0,114.9 L315.5,114.9 L316.0,114.9 L316.5,114.9 L317.0,114.9 L317.5,114.9 L318.0,114.9 L318.5,114.9 L319.0,114.9 L319.5,114.9 L320.0,114.9 L320.5,114.9 L321.0,114.9 L321.5,114.9 L322.0,114.9 L322.5,114.9 L323.0,114.9 L323.5,115.0 L324.0,115.0 L324.5,115.0 L325.0,115.0 L325.5,115.0 L326.0,115.0 L326.5,115.0 L327.0,115.0 L327.5,115.0 L328.0,115.0 L328.5,115.0 L329.0,115.0 L329.5,115.0 L330.0,115.0 L330.5,115.0 L331.0,115.0 L331.5,115.0 L332.0,115.0 L332.5,115.0 L333.0,115.1 L333.5,115.1 L334.0,115.1 L334.5,115.1 L335.0,115.2 L335.5,115.2 L336.0,115.2 L336.5,115.3 L337.0,115.3 L337.5,115.4 L338.0,115.6 L338.5,115.9 L339.0,116.2 L339.5,116.5 L340.0,116.8 L340.5,116.9 L341.0,117.0 L341.5,116.9 L342.0,116.8 L342.5,116.5 L343.0,116.2 L343.5,115.9 L344.0,115.6 L344.5,115.4 L345.0,115.3 L345.5,115.3 L346.0,115.2 L346.5,115.2 L347.0,115.2 L347.5,115.1 L348.0,115.1 L348.5,115.1 L349.0,115.1 L349.5,115.0 L350.0,115.0 L350.5,115.0 L351.0,115.0 L351.5,115.0 L352.0,115.0 L352.5,115.0 L353.0,115.0 L353.5,115.0 L354.0,115.0 L354.5,115.1 L355.0,115.1 L355.5,115.1 L356.0,115.1 L356.5,115.2 L357.0,115.2 L357.5,115.2 L358.0,115.3 L358.5,115.3 L359.0,115.4 L359.5,115.4 L360.0,115.5 L360.5,115.6 L361.0,115.8 L361.5,116.0 L362.0,116.4 L362.5,116.7 L363.0,117.2 L363.5,117.6 L364.0,118.1 L364.5,118.6 L365.0,119.1 L365.5,119.6 L366.0,120.1 L366.5,120.6 L367.0,121.0 L367.5,121.5 L368.0,122.0 L368.5,122.5 L369.0,123.1 L369.5,123.7 L370.0,124.3 L370.5,124.9 L371.0,125.5 L371.5,125.9 L372.0,126.4 L372.5,126.7 L373.0,126.9 L373.5,127.0 L374.0,126.9 L374.5,126.5 L375.0,125.8 L375.5,124.9 L376.0,123.9 L376.5,122.9 L377.0,121.8 L377.5,120.8 L378.0,120.0 L378.5,119.2 L379.0,118.2 L379.5,117.3 L380.0,116.5 L380.5,115.9 L381.0,115.6 L381.5,115.5 L382.0,115.3 L382.5,115.2 L383.0,115.2 L383.5,115.1 L384.0,115.0 L384.5,115.0 L385.0,115.0 L385.5,115.0 L386.0,115.0 L386.5,115.0 L387.0,115.0 L387.5,115.0 L388.0,115.0 L388.5,115.0 L389.0,115.0 L389.5,115.0 L390.0,115.0 L390.5,115.0 L391.0,115.0 L391.5,115.0 L392.0,115.0 L392.5,115.0 L393.0,115.0 L393.5,115.0 L394.0,115.0 L394.5,115.0 L395.0,115.0 L395.5,115.0 L396.0,115.0 L396.5,115.0 L397.0,115.0 L397.5,115.0 L398.0,115.2 L398.5,115.4 L399.0,115.7 L399.5,116.0 L400.0,116.4 L400.5,116.8 L401.0,117.3 L401.5,117.7 L402.0,118.2 L402.5,118.7 L403.0,119.2 L403.5,119.6 L404.0,120.0 L404.5,120.4 L405.0,120.7 L405.5,121.1 L406.0,121.4 L406.5,121.8 L407.0,122.2 L407.5,122.6 L408.0,123.0 L408.5,123.4 L409.0,123.9 L409.5,124.4 L410.0,125.0 L410.5,125.7 L411.0,126.4 L411.5,127.2 L412.0,128.2 L412.5,129.2 L413.0,130.3 L413.5,131.4 L414.0,132.6 L414.5,133.9 L415.0,135.2 L415.5,136.6 L416.0,138.0 L416.5,139.5 L417.0,141.2 L417.5,143.0 L418.0,144.9 L418.5,147.0 L419.0,149.2 L419.5,151.5 L420.0,154.0 L420.5,156.8 L421.0,160.0 L421.5,163.4 L422.0,167.0 L422.5,170.6 L423.0,174.0 L423.5,177.3 L424.0,180.7 L424.5,183.9 L425.0,187.0 L425.5,190.3 L426.0,193.4 L426.5,195.0 L427.0,195.3 L427.5,195.5 L428.0,195.6 L428.5,195.8 L429.0,196.0 L429.5,196.5 L430.0,197.4 L430.5,198.5 L431.0,199.8 L431.5,201.3 L432.0,202.8 L432.5,204.4 L433.0,206.0 L433.5,208.0 L434.0,210.5 L434.5,213.0 L435.0,215.0 L435.5,216.0 L436.0,215.9 L436.5,215.4 L437.0,214.8 L437.5,214.2 L438.0,214.0 L438.5,214.3 L439.0,215.2 L439.5,216.4 L440.0,217.9 L440.5,219.6 L441.0,221.3 L441.5,222.8 L442.0,224.0 L442.5,225.1 L443.0,226.3 L443.5,227.5 L444.0,228.7 L444.5,229.8 L445.0,230.7 L445.5,231.4 L446.0,231.9 L446.5,232.0 L447.0,231.8 L447.5,231.4 L448.0,230.8 L448.5,230.0 L449.0,229.0 L449.5,227.9 L450.0,226.8 L450.5,225.6 L451.0,224.4 L451.5,223.2 L452.0,222.0 L452.5,220.8 L453.0,219.6 L453.5,218.3 L454.0,216.9 L454.5,215.4 L455.0,213.7 L455.5,211.9 L456.0,210.0 L456.5,207.8 L457.0,205.3 L457.5,202.4 L458.0,199.3 L458.5,195.8 L459.0,192.0 L459.5,187.2 L460.0,181.2 L460.5,175.2 L461.0,170.0 L461.5,165.6 L462.0,161.5 L462.5,157.8 L463.0,155.0 L463.5,152.6 L464.0,150.3 L464.5,148.6 L465.0,148.0 L465.5,148.7 L466.0,150.3 L466.5,152.6 L467.0,155.0 L467.5,158.5 L468.0,163.2 L468.5,167.2 L469.0,169.0 L469.5,168.2 L470.0,166.0 L470.5,163.1 L471.0,160.0 L471.5,156.1 L472.0,151.0 L472.5,145.2 L473.0,139.4 L473.5,134.1 L474.0,130.0 L474.5,126.6 L475.0,123.1 L475.5,120.0 L476.0,117.4 L476.5,115.6 L477.0,115.0 L477.5,115.4 L478.0,116.5 L478.5,118.2 L479.0,120.3 L479.5,122.6 L480.0,125.0 L480.5,128.0 L481.0,132.0 L481.5,136.6 L482.0,141.5 L482.5,146.0 L483.0,150.0 L483.5,153.7 L484.0,157.7 L484.5,161.7 L485.0,165.5 L485.5,168.9 L486.0,171.6 L486.5,173.4 L487.0,174.0 L487.5,173.1 L488.0,170.7 L488.5,167.3 L489.0,163.6 L489.5,160.0 L490.0,156.2 L490.5,151.8 L491.0,147.3 L491.5,143.2 L492.0,140.0 L492.5,137.4 L493.0,135.0 L493.5,132.7 L494.0,130.7 L494.5,128.8 L495.0,127.2 L495.5,126.0 L496.0,125.0 L496.5,124.3 L497.0,123.7 L497.5,123.1 L498.0,122.7 L498.5,122.2 L499.0,121.8 L499.5,121.4 L500.0,121.0 L500.5,120.5 L501.0,120.0 L501.5,119.4 L502.0,118.9 L502.5,118.3 L503.0,117.8 L503.5,117.3 L504.0,116.9 L504.5,116.5 L505.0,116.2 L505.5,116.1 L506.0,116.0 L506.5,116.1 L507.0,116.3 L507.5,116.6 L508.0,117.0 L508.5,117.4 L509.0,117.7 L509.5,117.9 L510.0,118.0 L510.5,118.0 L511.0,117.8 L511.5,117.7 L512.0,117.4 L512.5,117.2 L513.0,117.0 L513.5,116.7 L514.0,116.6 L514.5,116.4 L515.0,116.4 L515.5,116.5 L516.0,116.7 L516.5,117.1 L517.0,117.5 L517.5,118.0 L518.0,118.5 L518.5,118.9 L519.0,119.3 L519.5,119.5 L520.0,119.6 L520.5,119.5 L521.0,119.1 L521.5,118.6 L522.0,118.0 L522.5,117.3 L523.0,116.6 L523.5,116.0 L524.0,115.5 L524.5,115.1 L525.0,115.0 L525.5,115.6 L526.0,117.3 L526.5,119.8 L527.0,122.9 L527.5,126.4 L528.0,130.0 L528.5,134.9 L529.0,141.6 L529.5,149.4 L530.0,157.3 L530.5,164.5 L531.0,170.0 L531.5,174.6 L532.0,179.1 L532.5,183.3 L533.0,186.8 L533.5,189.1 L534.0,190.0 L534.5,188.5 L535.0,184.8 L535.5,180.0 L536.0,175.0 L536.5,169.6 L537.0,163.1 L537.5,156.4 L538.0,150.0 L538.5,144.1 L539.0,138.2 L539.5,132.5 L540.0,126.9 L540.5,121.4 L541.0,116.0" fill="none" stroke="#1a66e0" stroke-width="3.6" stroke-linejoin="round" stroke-linecap="round"/>
<path d="M52.0,154.0 L52.5,154.0 L53.0,154.0 L53.5,154.1 L54.0,154.1 L54.5,154.1 L55.0,154.1 L55.5,154.2 L56.0,154.2 L56.5,154.2 L57.0,154.2 L57.5,154.2 L58.0,154.2 L58.5,154.2 L59.0,154.3 L59.5,154.3 L60.0,154.3 L60.5,154.3 L61.0,154.3 L61.5,154.3 L62.0,154.3 L62.5,154.3 L63.0,154.3 L63.5,154.3 L64.0,154.4 L64.5,154.4 L65.0,154.4 L65.5,154.4 L66.0,154.4 L66.5,154.4 L67.0,154.4 L67.5,154.4 L68.0,154.4 L68.5,154.4 L69.0,154.4 L69.5,154.4 L70.0,154.4 L70.5,154.4 L71.0,154.4 L71.5,154.4 L72.0,154.4 L72.5,154.4 L73.0,154.4 L73.5,154.4 L74.0,154.4 L74.5,154.4 L75.0,154.4 L75.5,154.4 L76.0,154.4 L76.5,154.4 L77.0,154.3 L77.5,154.1 L78.0,153.9 L78.5,153.6 L79.0,153.4 L79.5,153.2 L80.0,152.9 L80.5,152.7 L81.0,152.5 L81.5,152.4 L82.0,152.4 L82.5,152.4 L83.0,152.5 L83.5,152.6 L84.0,152.7 L84.5,152.8 L85.0,152.9 L85.5,153.0 L86.0,153.0 L86.5,152.9 L87.0,152.5 L87.5,151.9 L88.0,151.3 L88.5,150.7 L89.0,150.1 L89.5,149.7 L90.0,149.6 L90.5,149.7 L91.0,149.9 L91.5,150.3 L92.0,150.8 L92.5,151.3 L93.0,151.9 L93.5,152.5 L94.0,153.1 L94.5,153.6 L95.0,154.0 L95.5,154.4 L96.0,154.8 L96.5,155.2 L97.0,155.6 L97.5,156.0 L98.0,156.5 L98.5,156.8 L99.0,157.2 L99.5,157.5 L100.0,157.8 L100.5,158.1 L101.0,158.2 L101.5,158.4 L102.0,158.4 L102.5,158.4 L103.0,158.4 L103.5,158.4 L104.0,158.4 L104.5,158.4 L105.0,158.4 L105.5,158.4 L106.0,158.4 L106.5,158.4 L107.0,158.4 L107.5,158.4 L108.0,158.4 L108.5,158.4 L109.0,158.5 L109.5,158.6 L110.0,158.8 L110.5,159.0 L111.0,159.2 L111.5,159.4 L112.0,159.7 L112.5,160.0 L113.0,160.3 L113.5,160.6 L114.0,160.9 L114.5,161.2 L115.0,161.5 L115.5,161.8 L116.0,162.1 L116.5,162.4 L117.0,162.6 L117.5,162.8 L118.0,163.0 L118.5,163.2 L119.0,163.3 L119.5,163.5 L120.0,163.7 L120.5,163.8 L121.0,164.0 L121.5,164.1 L122.0,164.3 L122.5,164.4 L123.0,164.6 L123.5,164.7 L124.0,164.9 L124.5,165.0 L125.0,165.1 L125.5,165.2 L126.0,165.3 L126.5,165.3 L127.0,165.4 L127.5,165.4 L128.0,165.4 L128.5,165.4 L129.0,165.3 L129.5,165.3 L130.0,165.2 L130.5,165.1 L131.0,165.0 L131.5,164.8 L132.0,164.7 L132.5,164.5 L133.0,164.3 L133.5,164.1 L134.0,163.9 L134.5,163.7 L135.0,163.5 L135.5,163.3 L136.0,163.1 L136.5,162.9 L137.0,162.7 L137.5,162.6 L138.0,162.4 L138.5,162.2 L139.0,162.1 L139.5,161.9 L140.0,161.7 L140.5,161.5 L141.0,161.3 L141.5,161.2 L142.0,161.0 L142.5,160.8 L143.0,160.6 L143.5,160.4 L144.0,160.3 L144.5,160.1 L145.0,159.9 L145.5,159.8 L146.0,159.6 L146.5,159.5 L147.0,159.3 L147.5,159.2 L148.0,159.0 L148.5,158.9 L149.0,158.8 L149.5,158.7 L150.0,158.5 L150.5,158.4 L151.0,158.3 L151.5,158.2 L152.0,158.1 L152.5,158.0 L153.0,157.8 L153.5,157.7 L154.0,157.6 L154.5,157.4 L155.0,157.3 L155.5,157.2 L156.0,157.0 L156.5,156.8 L157.0,156.6 L157.5,156.4 L158.0,156.2 L158.5,155.9 L159.0,155.7 L159.5,155.4 L160.0,155.2 L160.5,155.0 L161.0,154.7 L161.5,154.5 L162.0,154.4 L162.5,154.2 L163.0,154.1 L163.5,154.0 L164.0,154.0 L164.5,154.0 L165.0,154.0 L165.5,154.0 L166.0,154.0 L166.5,154.0 L167.0,154.0 L167.5,154.0 L168.0,154.0 L168.5,154.0 L169.0,154.0 L169.5,154.0 L170.0,154.0 L170.5,154.0 L171.0,154.0 L171.5,154.0 L172.0,154.0 L172.5,154.0 L173.0,154.0 L173.5,154.0 L174.0,154.0 L174.5,154.0 L175.0,154.0 L175.5,154.0 L176.0,154.0 L176.5,154.0 L177.0,154.0 L177.5,154.0 L178.0,154.0 L178.5,154.0 L179.0,154.0 L179.5,154.0 L180.0,154.0 L180.5,154.0 L181.0,154.0 L181.5,154.0 L182.0,154.0 L182.5,154.0 L183.0,154.0 L183.5,154.0 L184.0,154.0 L184.5,154.0 L185.0,154.0 L185.5,154.0 L186.0,154.0 L186.5,154.0 L187.0,154.0 L187.5,154.0 L188.0,154.0 L188.5,154.0 L189.0,154.0 L189.5,155.4 L190.0,158.6 L190.5,162.0 L191.0,165.6 L191.5,169.8 L192.0,173.0 L192.5,173.9 L193.0,171.8 L193.5,167.9 L194.0,163.8 L194.5,161.0 L195.0,158.4 L195.5,156.1 L196.0,154.5 L196.5,154.0 L197.0,154.1 L197.5,154.2 L198.0,154.3 L198.5,154.5 L199.0,154.9 L199.5,155.7 L200.0,156.6 L200.5,157.3 L201.0,157.6 L201.5,157.3 L202.0,156.5 L202.5,155.6 L203.0,155.0 L203.5,154.6 L204.0,154.3 L204.5,154.1 L205.0,154.0 L205.5,154.0 L206.0,154.0 L206.5,154.0 L207.0,154.0 L207.5,154.0 L208.0,154.0 L208.5,154.0 L209.0,154.0 L209.5,154.0 L210.0,154.0 L210.5,154.0 L211.0,154.0 L211.5,154.0 L212.0,154.0 L212.5,154.0 L213.0,154.0 L213.5,154.0 L214.0,154.0 L214.5,154.0 L215.0,154.0 L215.5,154.0 L216.0,154.0 L216.5,154.0 L217.0,154.0 L217.5,154.0 L218.0,154.0 L218.5,154.0 L219.0,154.0 L219.5,154.0 L220.0,154.0 L220.5,154.0 L221.0,154.0 L221.5,154.0 L222.0,154.0 L222.5,154.0 L223.0,154.0 L223.5,154.0 L224.0,154.0 L224.5,154.0 L225.0,154.0 L225.5,154.0 L226.0,154.0 L226.5,154.0 L227.0,154.0 L227.5,154.0 L228.0,154.0 L228.5,154.0 L229.0,154.0 L229.5,154.0 L230.0,154.0 L230.5,154.0 L231.0,154.0 L231.5,154.0 L232.0,154.0 L232.5,154.0 L233.0,154.0 L233.5,154.0 L234.0,154.0 L234.5,154.0 L235.0,154.0 L235.5,154.0 L236.0,154.0 L236.5,154.0 L237.0,154.0 L237.5,154.0 L238.0,154.0 L238.5,154.0 L239.0,154.0 L239.5,154.0 L240.0,154.0 L240.5,154.0 L241.0,154.0 L241.5,154.0 L242.0,154.0 L242.5,154.0 L243.0,154.0 L243.5,154.0 L244.0,154.0 L244.5,154.0 L245.0,154.0 L245.5,154.0 L246.0,154.0 L246.5,154.0 L247.0,154.0 L247.5,154.0 L248.0,154.0 L248.5,154.0 L249.0,154.0 L249.5,154.0 L250.0,154.0 L250.5,154.0 L251.0,154.0 L251.5,154.0 L252.0,154.0 L252.5,154.0 L253.0,154.0 L253.5,154.0 L254.0,154.0 L254.5,154.0 L255.0,154.0 L255.5,154.0 L256.0,154.0 L256.5,154.0 L257.0,154.0 L257.5,154.0 L258.0,154.0 L258.5,154.0 L259.0,154.0 L259.5,154.0 L260.0,154.0 L260.5,154.0 L261.0,154.0 L261.5,154.0 L262.0,154.0 L262.5,154.0 L263.0,154.0 L263.5,154.0 L264.0,154.0 L264.5,154.0 L265.0,154.0 L265.5,154.0 L266.0,154.0 L266.5,154.0 L267.0,154.0 L267.5,154.0 L268.0,154.0 L268.5,154.0 L269.0,154.0 L269.5,154.0 L270.0,154.0 L270.5,154.1 L271.0,154.2 L271.5,154.5 L272.0,154.8 L272.5,155.0 L273.0,155.3 L273.5,155.4 L274.0,155.5 L274.5,155.4 L275.0,155.3 L275.5,155.0 L276.0,154.8 L276.5,154.5 L277.0,154.2 L277.5,154.1 L278.0,154.0 L278.5,154.0 L279.0,154.0 L279.5,154.0 L280.0,154.0 L280.5,154.0 L281.0,154.0 L281.5,154.0 L282.0,154.0 L282.5,154.0 L283.0,154.0 L283.5,154.0 L284.0,154.0 L284.5,154.0 L285.0,154.0 L285.5,154.0 L286.0,154.0 L286.5,154.0 L287.0,154.0 L287.5,154.0 L288.0,154.0 L288.5,154.0 L289.0,154.0 L289.5,154.0 L290.0,154.0 L290.5,154.0 L291.0,154.0 L291.5,154.0 L292.0,154.0 L292.5,154.0 L293.0,154.0 L293.5,154.0 L294.0,154.0 L294.5,154.0 L295.0,154.0 L295.5,154.0 L296.0,154.0 L296.5,154.0 L297.0,154.0 L297.5,154.0 L298.0,154.0 L298.5,154.0 L299.0,154.0 L299.5,154.0 L300.0,154.0 L300.5,154.0 L301.0,154.0 L301.5,154.0 L302.0,154.0 L302.5,154.0 L303.0,154.0 L303.5,154.0 L304.0,154.0 L304.5,154.0 L305.0,154.0 L305.5,154.0 L306.0,154.0 L306.5,154.0 L307.0,154.0 L307.5,154.0 L308.0,154.0 L308.5,154.0 L309.0,154.0 L309.5,154.0 L310.0,154.0 L310.5,154.0 L311.0,154.0 L311.5,154.0 L312.0,154.0 L312.5,154.0 L313.0,154.0 L313.5,154.0 L314.0,154.0 L314.5,154.0 L315.0,154.0 L315.5,154.0 L316.0,154.0 L316.5,154.0 L317.0,154.0 L317.5,154.0 L318.0,154.0 L318.5,154.0 L319.0,154.0 L319.5,154.0 L320.0,154.0 L320.5,154.0 L321.0,154.0 L321.5,154.0 L322.0,154.0 L322.5,154.0 L323.0,154.0 L323.5,154.0 L324.0,154.0 L324.5,154.0 L325.0,154.0 L325.5,154.0 L326.0,154.0 L326.5,154.0 L327.0,154.0 L327.5,154.0 L328.0,154.0 L328.5,154.0 L329.0,154.0 L329.5,154.0 L330.0,154.0 L330.5,154.0 L331.0,154.0 L331.5,154.0 L332.0,154.0 L332.5,154.0 L333.0,154.1 L333.5,154.1 L334.0,154.1 L334.5,154.1 L335.0,154.2 L335.5,154.2 L336.0,154.2 L336.5,154.3 L337.0,154.3 L337.5,154.4 L338.0,154.6 L338.5,154.9 L339.0,155.2 L339.5,155.5 L340.0,155.8 L340.5,155.9 L341.0,156.0 L341.5,155.9 L342.0,155.8 L342.5,155.5 L343.0,155.2 L343.5,154.9 L344.0,154.7 L344.5,154.4 L345.0,154.3 L345.5,154.2 L346.0,154.1 L346.5,154.1 L347.0,154.0 L347.5,153.9 L348.0,153.9 L348.5,153.8 L349.0,153.7 L349.5,153.7 L350.0,153.7 L350.5,153.6 L351.0,153.6 L351.5,153.6 L352.0,153.6 L352.5,153.6 L353.0,153.6 L353.5,153.6 L354.0,153.6 L354.5,153.6 L355.0,153.6 L355.5,153.6 L356.0,153.7 L356.5,153.7 L357.0,153.7 L357.5,153.7 L358.0,153.7 L358.5,153.8 L359.0,153.8 L359.5,153.8 L360.0,153.9 L360.5,153.9 L361.0,153.9 L361.5,154.0 L362.0,154.0 L362.5,154.1 L363.0,154.3 L363.5,154.5 L364.0,154.8 L364.5,155.1 L365.0,155.5 L365.5,156.0 L366.0,156.4 L366.5,156.8 L367.0,157.2 L367.5,157.6 L368.0,158.0 L368.5,158.4 L369.0,158.8 L369.5,159.3 L370.0,159.8 L370.5,160.2 L371.0,160.7 L371.5,161.2 L372.0,161.6 L372.5,161.9 L373.0,162.2 L373.5,162.3 L374.0,162.4 L374.5,162.2 L375.0,161.6 L375.5,160.7 L376.0,159.7 L376.5,158.8 L377.0,158.0 L377.5,157.3 L378.0,156.6 L378.5,155.8 L379.0,155.2 L379.5,154.7 L380.0,154.4 L380.5,154.2 L381.0,154.1 L381.5,153.9 L382.0,153.8 L382.5,153.7 L383.0,153.6 L383.5,153.4 L384.0,153.3 L384.5,153.2 L385.0,153.1 L385.5,153.0 L386.0,152.9 L386.5,152.9 L387.0,152.8 L387.5,152.7 L388.0,152.7 L388.5,152.6 L389.0,152.6 L389.5,152.5 L390.0,152.5 L390.5,152.5 L391.0,152.4 L391.5,152.4 L392.0,152.4 L392.5,152.4 L393.0,152.4 L393.5,152.5 L394.0,152.6 L394.5,152.8 L395.0,153.1 L395.5,153.4 L396.0,153.7 L396.5,154.0 L397.0,154.2 L397.5,154.3 L398.0,154.4 L398.5,154.4 L399.0,154.3 L399.5,154.1 L400.0,153.9 L400.5,153.7 L401.0,153.5 L401.5,153.3 L402.0,153.1 L402.5,153.0 L403.0,153.0 L403.5,153.0 L404.0,153.0 L404.5,153.0 L405.0,153.1 L405.5,153.1 L406.0,153.2 L406.5,153.3 L407.0,153.3 L407.5,153.4 L408.0,153.5 L408.5,153.6 L409.0,153.7 L409.5,153.9 L410.0,154.0 L410.5,154.3 L411.0,154.7 L411.5,155.4 L412.0,156.1 L412.5,157.0 L413.0,158.0 L413.5,159.0 L414.0,160.0 L414.5,161.1 L415.0,162.3 L415.5,163.6 L416.0,165.1 L416.5,166.6 L417.0,168.3 L417.5,170.1 L418.0,172.0 L418.5,174.1 L419.0,176.6 L419.5,179.3 L420.0,182.2 L420.5,185.1 L421.0,188.0 L421.5,190.8 L422.0,193.6 L422.5,196.6 L423.0,200.0 L423.5,204.0 L424.0,208.6 L424.5,213.7 L425.0,218.8 L425.5,224.0 L426.0,229.3 L426.5,234.8 L427.0,240.0 L427.5,244.6 L428.0,248.9 L428.5,253.2 L429.0,257.5 L429.5,261.8 L430.0,265.9 L430.5,269.3 L431.0,272.2 L431.5,274.9 L432.0,277.5 L432.5,280.1 L433.0,282.8 L433.5,285.3 L434.0,287.2 L434.5,288.6 L435.0,289.9 L435.5,291.0 L436.0,292.0 L436.5,293.1 L437.0,294.2 L437.5,295.5 L438.0,297.0 L438.5,298.5 L439.0,299.9 L439.5,301.3 L440.0,302.7 L440.5,304.1 L441.0,305.4 L441.5,306.8 L442.0,308.1 L442.5,309.5 L443.0,310.9 L443.5,312.2 L444.0,313.5 L444.5,314.8 L445.0,316.1 L445.5,317.3 L446.0,318.5 L446.5,319.7 L447.0,319.8 L447.5,318.5 L448.0,316.6 L448.5,313.9 L449.0,310.7 L449.5,308.0 L450.0,305.6 L450.5,303.2 L451.0,301.0 L451.5,299.0 L452.0,297.0 L452.5,294.4 L453.0,290.6 L453.5,286.0 L454.0,281.0 L454.5,275.4 L455.0,269.3 L455.5,262.5 L456.0,255.1 L456.5,247.3 L457.0,239.2 L457.5,230.9 L458.0,222.4 L458.5,215.5 L459.0,209.8 L459.5,204.8 L460.0,200.1 L460.5,195.3 L461.0,190.0 L461.5,183.7 L462.0,177.1 L462.5,172.0 L463.0,168.5 L463.5,166.2 L464.0,165.6 L464.5,165.2 L465.0,165.0 L465.5,164.8 L466.0,164.7 L466.5,164.4 L467.0,164.0 L467.5,163.1 L468.0,161.7 L468.5,159.9 L469.0,157.9 L469.5,155.9 L470.0,154.0 L470.5,152.2 L471.0,150.1 L471.5,148.0 L472.0,146.0 L472.5,144.0 L473.0,142.3 L473.5,140.9 L474.0,140.0 L474.5,139.3 L475.0,138.7 L475.5,138.2 L476.0,137.7 L476.5,137.4 L477.0,137.1 L477.5,137.0 L478.0,137.3 L478.5,138.6 L479.0,140.7 L479.5,143.2 L480.0,146.1 L480.5,149.1 L481.0,152.0 L481.5,154.9 L482.0,158.2 L482.5,161.8 L483.0,165.6 L483.5,169.7 L484.0,174.0 L484.5,178.8 L485.0,184.1 L485.5,189.7 L486.0,195.0 L486.5,201.1 L487.0,207.4 L487.5,210.9 L488.0,210.3 L488.5,207.8 L489.0,203.9 L489.5,199.5 L490.0,195.0 L490.5,189.5 L491.0,182.4 L491.5,175.1 L492.0,169.1 L492.5,165.5 L493.0,163.2 L493.5,161.1 L494.0,159.3 L494.5,157.8 L495.0,156.6 L495.5,155.7 L496.0,155.0 L496.5,154.5 L497.0,154.1 L497.5,153.8 L498.0,153.5 L498.5,153.2 L499.0,153.0 L499.5,152.7 L500.0,152.4 L500.5,152.0 L501.0,151.6 L501.5,151.2 L502.0,150.7 L502.5,150.3 L503.0,149.9 L503.5,149.5 L504.0,149.2 L504.5,149.1 L505.0,149.0 L505.5,149.1 L506.0,149.3 L506.5,149.6 L507.0,150.0 L507.5,150.4 L508.0,150.7 L508.5,150.9 L509.0,151.0 L509.5,150.9 L510.0,150.6 L510.5,150.3 L511.0,149.8 L511.5,149.3 L512.0,148.8 L512.5,148.3 L513.0,148.0 L513.5,147.7 L514.0,147.6 L514.5,147.7 L515.0,148.1 L515.5,148.6 L516.0,149.3 L516.5,150.0 L517.0,150.7 L517.5,151.5 L518.0,152.1 L518.5,152.6 L519.0,153.0 L519.5,153.2 L520.0,153.4 L520.5,153.5 L521.0,153.7 L521.5,153.8 L522.0,153.8 L522.5,153.9 L523.0,154.1 L523.5,154.2 L524.0,154.4 L524.5,154.7 L525.0,155.0 L525.5,155.9 L526.0,157.9 L526.5,160.7 L527.0,164.0 L527.5,169.5 L528.0,177.9 L528.5,187.5 L529.0,197.0 L529.5,206.5 L530.0,216.7 L530.5,226.5 L531.0,235.0 L531.5,242.9 L532.0,250.9 L532.5,258.0 L533.0,263.1 L533.5,265.0 L534.0,262.8 L534.5,257.2 L535.0,249.7 L535.5,241.8 L536.0,235.0 L536.5,229.5 L537.0,224.2 L537.5,218.8 L538.0,213.0 L538.5,206.7 L539.0,200.0 L539.5,193.0 L540.0,185.6" fill="none" stroke="#2faa68" stroke-width="3.6" stroke-linejoin="round" stroke-linecap="round"/>
<path d="M52.0,192.4 L52.5,192.5 L53.0,192.6 L53.5,192.7 L54.0,192.8 L54.5,192.8 L55.0,192.9 L55.5,193.0 L56.0,193.1 L56.5,193.1 L57.0,193.2 L57.5,193.3 L58.0,193.3 L58.5,193.4 L59.0,193.4 L59.5,193.5 L60.0,193.5 L60.5,193.6 L61.0,193.6 L61.5,193.6 L62.0,193.7 L62.5,193.7 L63.0,193.7 L63.5,193.8 L64.0,193.8 L64.5,193.8 L65.0,193.8 L65.5,193.9 L66.0,193.9 L66.5,193.9 L67.0,193.9 L67.5,193.9 L68.0,193.9 L68.5,194.0 L69.0,194.0 L69.5,194.0 L70.0,194.0 L70.5,194.0 L71.0,194.0 L71.5,194.0 L72.0,194.0 L72.5,194.0 L73.0,194.0 L73.5,194.0 L74.0,194.0 L74.5,194.0 L75.0,194.0 L75.5,194.0 L76.0,194.0 L76.5,194.0 L77.0,193.9 L77.5,193.8 L78.0,193.6 L78.5,193.4 L79.0,193.2 L79.5,193.0 L80.0,192.8 L80.5,192.7 L81.0,192.5 L81.5,192.4 L82.0,192.4 L82.5,192.5 L83.0,192.7 L83.5,193.0 L84.0,193.4 L84.5,193.8 L85.0,194.1 L85.5,194.3 L86.0,194.4 L86.5,194.3 L87.0,194.2 L87.5,193.9 L88.0,193.6 L88.5,193.2 L89.0,192.8 L89.5,192.5 L90.0,192.2 L90.5,192.1 L91.0,192.0 L91.5,192.0 L92.0,192.1 L92.5,192.1 L93.0,192.2 L93.5,192.3 L94.0,192.5 L94.5,192.6 L95.0,192.8 L95.5,193.0 L96.0,193.2 L96.5,193.4 L97.0,193.6 L97.5,193.8 L98.0,194.0 L98.5,194.2 L99.0,194.4 L99.5,194.6 L100.0,194.9 L100.5,195.1 L101.0,195.3 L101.5,195.4 L102.0,195.6 L102.5,195.8 L103.0,195.9 L103.5,196.1 L104.0,196.3 L104.5,196.4 L105.0,196.6 L105.5,196.7 L106.0,196.9 L106.5,197.1 L107.0,197.2 L107.5,197.4 L108.0,197.6 L108.5,197.7 L109.0,197.9 L109.5,198.1 L110.0,198.2 L110.5,198.4 L111.0,198.5 L111.5,198.7 L112.0,198.8 L112.5,199.0 L113.0,199.2 L113.5,199.3 L114.0,199.4 L114.5,199.6 L115.0,199.7 L115.5,199.9 L116.0,200.0 L116.5,200.1 L117.0,200.3 L117.5,200.4 L118.0,200.6 L118.5,200.7 L119.0,200.9 L119.5,201.0 L120.0,201.2 L120.5,201.3 L121.0,201.5 L121.5,201.6 L122.0,201.8 L122.5,201.9 L123.0,202.1 L123.5,202.2 L124.0,202.3 L124.5,202.4 L125.0,202.5 L125.5,202.6 L126.0,202.7 L126.5,202.8 L127.0,202.9 L127.5,202.9 L128.0,203.0 L128.5,203.0 L129.0,203.0 L129.5,203.0 L130.0,202.9 L130.5,202.9 L131.0,202.7 L131.5,202.6 L132.0,202.4 L132.5,202.3 L133.0,202.1 L133.5,201.9 L134.0,201.6 L134.5,201.4 L135.0,201.2 L135.5,200.9 L136.0,200.7 L136.5,200.4 L137.0,200.2 L137.5,200.0 L138.0,199.8 L138.5,199.5 L139.0,199.3 L139.5,199.2 L140.0,199.0 L140.5,198.9 L141.0,198.7 L141.5,198.6 L142.0,198.4 L142.5,198.3 L143.0,198.1 L143.5,198.0 L144.0,197.9 L144.5,197.7 L145.0,197.6 L145.5,197.5 L146.0,197.4 L146.5,197.2 L147.0,197.1 L147.5,197.0 L148.0,196.9 L148.5,196.7 L149.0,196.6 L149.5,196.5 L150.0,196.4 L150.5,196.3 L151.0,196.2 L151.5,196.1 L152.0,196.0 L152.5,195.9 L153.0,195.8 L153.5,195.7 L154.0,195.6 L154.5,195.5 L155.0,195.4 L155.5,195.3 L156.0,195.2 L156.5,195.1 L157.0,195.0 L157.5,194.9 L158.0,194.8 L158.5,194.7 L159.0,194.6 L159.5,194.5 L160.0,194.4 L160.5,194.3 L161.0,194.2 L161.5,194.0 L162.0,193.9 L162.5,193.8 L163.0,193.7 L163.5,193.6 L164.0,193.6 L164.5,193.6 L165.0,193.6 L165.5,193.6 L166.0,193.6 L166.5,193.6 L167.0,193.6 L167.5,193.6 L168.0,193.6 L168.5,193.6 L169.0,193.6 L169.5,193.6 L170.0,193.6 L170.5,193.6 L171.0,193.6 L171.5,193.6 L172.0,193.6 L172.5,193.6 L173.0,193.6 L173.5,193.6 L174.0,193.6 L174.5,193.6 L175.0,193.6 L175.5,193.6 L176.0,193.6 L176.5,193.6 L177.0,193.6 L177.5,193.6 L178.0,193.6 L178.5,193.6 L179.0,193.6 L179.5,193.6 L180.0,193.6 L180.5,193.6 L181.0,193.6 L181.5,193.6 L182.0,193.6 L182.5,193.6 L183.0,193.6 L183.5,193.6 L184.0,193.6 L184.5,193.6 L185.0,193.6 L185.5,193.6 L186.0,193.6 L186.5,193.6 L187.0,193.6 L187.5,193.6 L188.0,193.6 L188.5,193.6 L189.0,193.6 L189.5,193.6 L190.0,194.8 L190.5,197.8 L191.0,201.5 L191.5,205.0 L192.0,208.8 L192.5,213.2 L193.0,217.0 L193.5,218.9 L194.0,218.0 L194.5,214.7 L195.0,210.4 L195.5,206.3 L196.0,203.2 L196.5,199.9 L197.0,196.8 L197.5,194.5 L198.0,193.6 L198.5,193.7 L199.0,193.9 L199.5,194.2 L200.0,194.5 L200.5,195.1 L201.0,195.9 L201.5,196.7 L202.0,197.0 L202.5,196.7 L203.0,195.9 L203.5,195.1 L204.0,194.5 L204.5,194.2 L205.0,193.9 L205.5,193.7 L206.0,193.6 L206.5,193.6 L207.0,193.6 L207.5,193.6 L208.0,193.6 L208.5,193.6 L209.0,193.6 L209.5,193.6 L210.0,193.6 L210.5,193.6 L211.0,193.6 L211.5,193.6 L212.0,193.6 L212.5,193.6 L213.0,193.6 L213.5,193.6 L214.0,193.6 L214.5,193.6 L215.0,193.6 L215.5,193.6 L216.0,193.6 L216.5,193.6 L217.0,193.6 L217.5,193.6 L218.0,193.6 L218.5,193.6 L219.0,193.6 L219.5,193.6 L220.0,193.6 L220.5,193.6 L221.0,193.6 L221.5,193.6 L222.0,193.6 L222.5,193.6 L223.0,193.6 L223.5,193.6 L224.0,193.6 L224.5,193.6 L225.0,193.6 L225.5,193.6 L226.0,193.6 L226.5,193.6 L227.0,193.6 L227.5,193.6 L228.0,193.6 L228.5,193.6 L229.0,193.6 L229.5,193.6 L230.0,193.6 L230.5,193.6 L231.0,193.6 L231.5,193.6 L232.0,193.6 L232.5,193.6 L233.0,193.6 L233.5,193.7 L234.0,193.7 L234.5,193.7 L235.0,193.7 L235.5,193.7 L236.0,193.7 L236.5,193.7 L237.0,193.7 L237.5,193.7 L238.0,193.7 L238.5,193.7 L239.0,193.7 L239.5,193.7 L240.0,193.7 L240.5,193.7 L241.0,193.7 L241.5,193.7 L242.0,193.7 L242.5,193.7 L243.0,193.7 L243.5,193.7 L244.0,193.7 L244.5,193.7 L245.0,193.7 L245.5,193.7 L246.0,193.7 L246.5,193.7 L247.0,193.7 L247.5,193.7 L248.0,193.7 L248.5,193.7 L249.0,193.7 L249.5,193.7 L250.0,193.7 L250.5,193.7 L251.0,193.7 L251.5,193.7 L252.0,193.7 L252.5,193.7 L253.0,193.7 L253.5,193.7 L254.0,193.7 L254.5,193.7 L255.0,193.7 L255.5,193.7 L256.0,193.7 L256.5,193.7 L257.0,193.7 L257.5,193.7 L258.0,193.8 L258.5,193.8 L259.0,193.8 L259.5,193.8 L260.0,193.8 L260.5,193.8 L261.0,193.8 L261.5,193.8 L262.0,193.8 L262.5,193.8 L263.0,193.8 L263.5,193.8 L264.0,193.8 L264.5,193.8 L265.0,193.8 L265.5,193.8 L266.0,193.8 L266.5,193.8 L267.0,193.8 L267.5,193.8 L268.0,193.8 L268.5,193.8 L269.0,193.8 L269.5,193.8 L270.0,193.8 L270.5,193.8 L271.0,193.8 L271.5,193.8 L272.0,193.8 L272.5,193.8 L273.0,193.8 L273.5,193.8 L274.0,193.8 L274.5,193.8 L275.0,193.8 L275.5,193.8 L276.0,193.8 L276.5,193.8 L277.0,193.8 L277.5,193.8 L278.0,193.8 L278.5,193.9 L279.0,193.9 L279.5,193.9 L280.0,193.9 L280.5,193.9 L281.0,193.9 L281.5,193.9 L282.0,193.9 L282.5,193.9 L283.0,193.9 L283.5,193.9 L284.0,193.9 L284.5,193.9 L285.0,193.9 L285.5,193.9 L286.0,193.9 L286.5,193.9 L287.0,193.9 L287.5,193.9 L288.0,193.9 L288.5,193.9 L289.0,193.9 L289.5,193.9 L290.0,193.9 L290.5,193.9 L291.0,193.9 L291.5,193.9 L292.0,193.9 L292.5,193.9 L293.0,193.9 L293.5,193.9 L294.0,193.9 L294.5,193.9 L295.0,193.9 L295.5,193.9 L296.0,193.9 L296.5,193.9 L297.0,193.9 L297.5,193.9 L298.0,193.9 L298.5,193.9 L299.0,193.9 L299.5,193.9 L300.0,193.9 L300.5,193.9 L301.0,193.9 L301.5,193.9 L302.0,193.9 L302.5,193.9 L303.0,194.0 L303.5,194.0 L304.0,194.0 L304.5,194.0 L305.0,194.0 L305.5,194.0 L306.0,194.0 L306.5,194.0 L307.0,194.0 L307.5,194.0 L308.0,194.0 L308.5,194.0 L309.0,194.0 L309.5,194.0 L310.0,194.0 L310.5,194.0 L311.0,194.0 L311.5,194.0 L312.0,194.0 L312.5,194.0 L313.0,194.0 L313.5,194.0 L314.0,194.0 L314.5,194.0 L315.0,194.0 L315.5,194.0 L316.0,194.0 L316.5,194.0 L317.0,194.0 L317.5,194.0 L318.0,194.0 L318.5,194.0 L319.0,194.0 L319.5,194.0 L320.0,194.0 L320.5,194.0 L321.0,194.0 L321.5,194.0 L322.0,194.0 L322.5,194.0 L323.0,194.0 L323.5,194.0 L324.0,194.0 L324.5,194.0 L325.0,194.0 L325.5,194.0 L326.0,194.0 L326.5,194.0 L327.0,194.0 L327.5,194.0 L328.0,194.0 L328.5,194.0 L329.0,194.0 L329.5,194.0 L330.0,194.0 L330.5,194.0 L331.0,194.0 L331.5,194.0 L332.0,194.0 L332.5,194.0 L333.0,194.0 L333.5,194.0 L334.0,194.0 L334.5,194.0 L335.0,193.9 L335.5,193.9 L336.0,193.9 L336.5,193.9 L337.0,193.9 L337.5,193.9 L338.0,193.9 L338.5,193.9 L339.0,193.9 L339.5,193.8 L340.0,193.8 L340.5,193.8 L341.0,193.8 L341.5,193.8 L342.0,193.8 L342.5,193.8 L343.0,193.7 L343.5,193.7 L344.0,193.7 L344.5,193.7 L345.0,193.7 L345.5,193.7 L346.0,193.7 L346.5,193.7 L347.0,193.7 L347.5,193.6 L348.0,193.6 L348.5,193.6 L349.0,193.6 L349.5,193.6 L350.0,193.6 L350.5,193.6 L351.0,193.6 L351.5,193.6 L352.0,193.6 L352.5,193.6 L353.0,193.6 L353.5,193.6 L354.0,193.7 L354.5,193.7 L355.0,193.7 L355.5,193.8 L356.0,193.8 L356.5,193.9 L357.0,193.9 L357.5,194.0 L358.0,194.1 L358.5,194.1 L359.0,194.2 L359.5,194.3 L360.0,194.4 L360.5,194.5 L361.0,194.6 L361.5,194.6 L362.0,194.7 L362.5,194.8 L363.0,194.9 L363.5,195.1 L364.0,195.2 L364.5,195.3 L365.0,195.4 L365.5,195.5 L366.0,195.6 L366.5,195.7 L367.0,195.9 L367.5,196.1 L368.0,196.4 L368.5,196.7 L369.0,196.9 L369.5,197.2 L370.0,197.5 L370.5,197.8 L371.0,198.1 L371.5,198.3 L372.0,198.6 L372.5,198.7 L373.0,198.9 L373.5,199.0 L374.0,199.0 L374.5,198.9 L375.0,198.5 L375.5,198.1 L376.0,197.5 L376.5,197.0 L377.0,196.5 L377.5,196.0 L378.0,195.5 L378.5,195.0 L379.0,194.5 L379.5,194.2 L380.0,194.0 L380.5,193.9 L381.0,193.8 L381.5,193.8 L382.0,193.7 L382.5,193.6 L383.0,193.6 L383.5,193.5 L384.0,193.4 L384.5,193.4 L385.0,193.3 L385.5,193.3 L386.0,193.3 L386.5,193.2 L387.0,193.2 L387.5,193.2 L388.0,193.1 L388.5,193.1 L389.0,193.1 L389.5,193.1 L390.0,193.0 L390.5,193.0 L391.0,193.0 L391.5,193.0 L392.0,193.0 L392.5,193.0 L393.0,193.0 L393.5,193.1 L394.0,193.3 L394.5,193.6 L395.0,194.0 L395.5,194.4 L396.0,194.7 L396.5,194.9 L397.0,195.0 L397.5,194.9 L398.0,194.8 L398.5,194.5 L399.0,194.2 L399.5,193.8 L400.0,193.5 L400.5,193.1 L401.0,192.8 L401.5,192.6 L402.0,192.4 L402.5,192.3 L403.0,192.2 L403.5,192.1 L404.0,192.0 L404.5,192.0 L405.0,191.9 L405.5,191.8 L406.0,191.8 L406.5,191.7 L407.0,191.7 L407.5,191.6 L408.0,191.6 L408.5,191.6 L409.0,191.6 L409.5,191.7 L410.0,191.8 L410.5,192.1 L411.0,192.5 L411.5,193.0 L412.0,193.5 L412.5,194.1 L413.0,194.7 L413.5,195.3 L414.0,196.0 L414.5,196.8 L415.0,197.7 L415.5,198.8 L416.0,200.1 L416.5,201.4 L417.0,202.9 L417.5,204.4 L418.0,206.0 L418.5,207.7 L419.0,209.7 L419.5,211.9 L420.0,214.2 L420.5,216.7 L421.0,219.1 L421.5,221.6 L422.0,224.0 L422.5,226.3 L423.0,228.6 L423.5,230.9 L424.0,233.4 L424.5,236.0 L425.0,238.8 L425.5,242.0 L426.0,245.9 L426.5,250.1 L427.0,254.0 L427.5,257.7 L428.0,261.3 L428.5,264.8 L429.0,268.0 L429.5,271.0 L430.0,273.8 L430.5,276.4 L431.0,279.0 L431.5,281.6 L432.0,284.0 L432.5,286.1 L433.0,287.8 L433.5,289.1 L434.0,290.3 L434.5,291.5 L435.0,292.7 L435.5,293.8 L436.0,295.0 L436.5,296.4 L437.0,298.0 L437.5,299.6 L438.0,301.1 L438.5,302.5 L439.0,303.8 L439.5,305.2 L440.0,306.5 L440.5,307.8 L441.0,309.1 L441.5,310.4 L442.0,311.7 L442.5,313.0 L443.0,314.4 L443.5,315.8 L444.0,317.2 L444.5,318.5 L445.0,319.9 L445.5,321.1 L446.0,322.2 L446.5,323.2 L447.0,323.3 L447.5,322.3 L448.0,320.8 L448.5,318.4 L449.0,316.1 L449.5,313.8 L450.0,311.4 L450.5,309.0 L451.0,306.6 L451.5,304.2 L452.0,301.9 L452.5,299.8 L453.0,297.8 L453.5,295.6 L454.0,292.3 L454.5,287.9 L455.0,283.0 L455.5,277.8 L456.0,271.9 L456.5,265.1 L457.0,257.1 L457.5,248.5 L458.0,239.5 L458.5,230.5 L459.0,221.3 L459.5,215.1 L460.0,210.8 L460.5,207.0 L461.0,203.8 L461.5,201.3 L462.0,199.6 L462.5,198.9 L463.0,198.6 L463.5,198.4 L464.0,198.3 L464.5,198.2 L465.0,198.0 L465.5,197.9 L466.0,197.6 L466.5,197.2 L467.0,196.7 L467.5,196.0 L468.0,195.3 L468.5,194.5 L469.0,193.6 L469.5,192.8 L470.0,192.0 L470.5,191.1 L471.0,190.1 L471.5,189.0 L472.0,187.7 L472.5,186.5 L473.0,185.3 L473.5,184.2 L474.0,183.2 L474.5,182.3 L475.0,181.6 L475.5,181.2 L476.0,181.0 L476.5,181.2 L477.0,181.8 L477.5,182.6 L478.0,183.8 L478.5,185.1 L479.0,186.7 L479.5,188.3 L480.0,190.0 L480.5,192.1 L481.0,194.9 L481.5,198.3 L482.0,202.0 L482.5,205.9 L483.0,210.0 L483.5,214.7 L484.0,220.1 L484.5,225.5 L485.0,230.0 L485.5,234.0 L486.0,238.1 L486.5,241.5 L487.0,243.6 L487.5,243.8 L488.0,241.6 L488.5,237.6 L489.0,232.8 L489.5,228.0 L490.0,224.0 L490.5,220.6 L491.0,217.2 L491.5,213.9 L492.0,210.8 L492.5,208.1 L493.0,206.0 L493.5,204.3 L494.0,202.7 L494.5,201.2 L495.0,199.9 L495.5,198.7 L496.0,197.7 L496.5,196.8 L497.0,196.0 L497.5,195.3 L498.0,194.8 L498.5,194.2 L499.0,193.8 L499.5,193.4 L500.0,193.0 L500.5,192.7 L501.0,192.3 L501.5,191.9 L502.0,191.6 L502.5,191.3 L503.0,191.0 L503.5,190.7 L504.0,190.5 L504.5,190.3 L505.0,190.1 L505.5,190.0 L506.0,190.0 L506.5,190.1 L507.0,190.5 L507.5,191.0 L508.0,191.5 L508.5,191.9 L509.0,192.0 L509.5,191.9 L510.0,191.7 L510.5,191.4 L511.0,190.9 L511.5,190.5 L512.0,190.1 L512.5,189.6 L513.0,189.3 L513.5,189.1 L514.0,189.0 L514.5,189.1 L515.0,189.3 L515.5,189.7 L516.0,190.1 L516.5,190.6 L517.0,191.1 L517.5,191.5 L518.0,191.9 L518.5,192.2 L519.0,192.4 L519.5,192.5 L520.0,192.5 L520.5,192.6 L521.0,192.6 L521.5,192.6 L522.0,192.7 L522.5,192.7 L523.0,192.7 L523.5,192.8 L524.0,192.8 L524.5,192.9 L525.0,193.0 L525.5,193.7 L526.0,195.3 L526.5,197.5 L527.0,200.0 L527.5,203.5 L528.0,208.3 L528.5,214.0 L529.0,220.0 L529.5,226.7 L530.0,234.3 L530.5,242.3 L531.0,250.0 L531.5,257.9 L532.0,265.7 L532.5,272.0 L533.0,277.3 L533.5,280.0 L534.0,277.5 L534.5,273.0 L535.0,268.4 L535.5,263.1 L536.0,258.0 L536.5,253.5 L537.0,249.1 L537.5,244.8 L538.0,240.0 L538.5,234.8 L539.0,229.3 L539.5,223.5 L540.0,217.4 L540.5,211.0" fill="none" stroke="#b070e8" stroke-width="3.6" stroke-linejoin="round" stroke-linecap="round"/>
<path d="M52.0,231.6 L52.5,231.7 L53.0,231.8 L53.5,231.8 L54.0,231.9 L54.5,232.0 L55.0,232.1 L55.5,232.1 L56.0,232.2 L56.5,232.2 L57.0,232.3 L57.5,232.4 L58.0,232.4 L58.5,232.5 L59.0,232.5 L59.5,232.5 L60.0,232.6 L60.5,232.6 L61.0,232.7 L61.5,232.7 L62.0,232.7 L62.5,232.8 L63.0,232.8 L63.5,232.8 L64.0,232.8 L64.5,232.8 L65.0,232.9 L65.5,232.9 L66.0,232.9 L66.5,232.9 L67.0,232.9 L67.5,232.9 L68.0,232.9 L68.5,233.0 L69.0,233.0 L69.5,233.0 L70.0,233.0 L70.5,233.0 L71.0,233.0 L71.5,233.0 L72.0,233.0 L72.5,233.0 L73.0,233.0 L73.5,233.0 L74.0,233.0 L74.5,233.0 L75.0,233.0 L75.5,233.0 L76.0,233.0 L76.5,232.9 L77.0,232.8 L77.5,232.5 L78.0,232.2 L78.5,231.9 L79.0,231.6 L79.5,231.2 L80.0,230.9 L80.5,230.7 L81.0,230.5 L81.5,230.4 L82.0,230.5 L82.5,230.7 L83.0,231.2 L83.5,231.7 L84.0,232.2 L84.5,232.7 L85.0,233.2 L85.5,233.5 L86.0,233.6 L86.5,233.5 L87.0,233.2 L87.5,232.8 L88.0,232.3 L88.5,231.8 L89.0,231.3 L89.5,230.8 L90.0,230.4 L90.5,230.1 L91.0,230.0 L91.5,230.0 L92.0,230.1 L92.5,230.3 L93.0,230.5 L93.5,230.7 L94.0,231.0 L94.5,231.3 L95.0,231.6 L95.5,231.9 L96.0,232.3 L96.5,232.6 L97.0,233.0 L97.5,233.3 L98.0,233.6 L98.5,233.8 L99.0,234.1 L99.5,234.3 L100.0,234.4 L100.5,234.5 L101.0,234.6 L101.5,234.7 L102.0,234.8 L102.5,234.8 L103.0,234.9 L103.5,235.0 L104.0,235.0 L104.5,235.1 L105.0,235.1 L105.5,235.2 L106.0,235.3 L106.5,235.3 L107.0,235.4 L107.5,235.5 L108.0,235.6 L108.5,235.7 L109.0,235.8 L109.5,236.0 L110.0,236.1 L110.5,236.3 L111.0,236.5 L111.5,236.7 L112.0,236.9 L112.5,237.1 L113.0,237.3 L113.5,237.5 L114.0,237.7 L114.5,237.9 L115.0,238.0 L115.5,238.2 L116.0,238.4 L116.5,238.6 L117.0,238.7 L117.5,238.9 L118.0,239.0 L118.5,239.1 L119.0,239.2 L119.5,239.4 L120.0,239.5 L120.5,239.6 L121.0,239.7 L121.5,239.9 L122.0,240.0 L122.5,240.1 L123.0,240.2 L123.5,240.3 L124.0,240.4 L124.5,240.5 L125.0,240.6 L125.5,240.7 L126.0,240.8 L126.5,240.8 L127.0,240.9 L127.5,240.9 L128.0,241.0 L128.5,241.0 L129.0,241.0 L129.5,241.0 L130.0,240.9 L130.5,240.9 L131.0,240.7 L131.5,240.6 L132.0,240.4 L132.5,240.3 L133.0,240.1 L133.5,239.9 L134.0,239.6 L134.5,239.4 L135.0,239.2 L135.5,238.9 L136.0,238.7 L136.5,238.4 L137.0,238.2 L137.5,238.0 L138.0,237.8 L138.5,237.5 L139.0,237.3 L139.5,237.2 L140.0,237.0 L140.5,236.8 L141.0,236.7 L141.5,236.5 L142.0,236.4 L142.5,236.3 L143.0,236.1 L143.5,236.0 L144.0,235.8 L144.5,235.7 L145.0,235.5 L145.5,235.4 L146.0,235.3 L146.5,235.2 L147.0,235.0 L147.5,234.9 L148.0,234.8 L148.5,234.7 L149.0,234.6 L149.5,234.5 L150.0,234.4 L150.5,234.3 L151.0,234.2 L151.5,234.1 L152.0,234.1 L152.5,234.0 L153.0,233.9 L153.5,233.9 L154.0,233.8 L154.5,233.7 L155.0,233.7 L155.5,233.6 L156.0,233.5 L156.5,233.5 L157.0,233.4 L157.5,233.3 L158.0,233.3 L158.5,233.2 L159.0,233.1 L159.5,233.1 L160.0,233.0 L160.5,232.9 L161.0,232.8 L161.5,232.7 L162.0,232.6 L162.5,232.5 L163.0,232.5 L163.5,232.4 L164.0,232.4 L164.5,232.4 L165.0,232.4 L165.5,232.4 L166.0,232.4 L166.5,232.4 L167.0,232.4 L167.5,232.4 L168.0,232.4 L168.5,232.4 L169.0,232.4 L169.5,232.4 L170.0,232.4 L170.5,232.4 L171.0,232.4 L171.5,232.4 L172.0,232.4 L172.5,232.4 L173.0,232.4 L173.5,232.4 L174.0,232.4 L174.5,232.4 L175.0,232.4 L175.5,232.4 L176.0,232.4 L176.5,232.4 L177.0,232.4 L177.5,232.4 L178.0,232.4 L178.5,232.4 L179.0,232.4 L179.5,232.4 L180.0,232.4 L180.5,232.4 L181.0,232.4 L181.5,232.4 L182.0,232.4 L182.5,232.4 L183.0,232.4 L183.5,232.4 L184.0,232.4 L184.5,232.4 L185.0,232.4 L185.5,232.4 L186.0,232.4 L186.5,232.4 L187.0,232.4 L187.5,232.4 L188.0,232.4 L188.5,232.4 L189.0,233.8 L189.5,237.3 L190.0,241.7 L190.5,246.0 L191.0,250.9 L191.5,256.7 L192.0,261.8 L192.5,264.4 L193.0,263.2 L193.5,258.8 L194.0,253.0 L194.5,247.6 L195.0,243.8 L195.5,239.8 L196.0,236.1 L196.5,233.4 L197.0,232.4 L197.5,232.5 L198.0,232.6 L198.5,232.8 L199.0,233.0 L199.5,233.4 L200.0,234.2 L200.5,235.0 L201.0,235.6 L201.5,236.0 L202.0,235.8 L202.5,235.2 L203.0,234.5 L203.5,233.7 L204.0,233.2 L204.5,232.9 L205.0,232.7 L205.5,232.5 L206.0,232.4 L206.5,232.4 L207.0,232.4 L207.5,232.4 L208.0,232.4 L208.5,232.4 L209.0,232.4 L209.5,232.4 L210.0,232.4 L210.5,232.4 L211.0,232.4 L211.5,232.4 L212.0,232.4 L212.5,232.4 L213.0,232.4 L213.5,232.4 L214.0,232.4 L214.5,232.4 L215.0,232.4 L215.5,232.4 L216.0,232.4 L216.5,232.4 L217.0,232.4 L217.5,232.4 L218.0,232.4 L218.5,232.4 L219.0,232.4 L219.5,232.4 L220.0,232.4 L220.5,232.4 L221.0,232.4 L221.5,232.4 L222.0,232.4 L222.5,232.4 L223.0,232.4 L223.5,232.4 L224.0,232.4 L224.5,232.4 L225.0,232.4 L225.5,232.4 L226.0,232.4 L226.5,232.4 L227.0,232.4 L227.5,232.4 L228.0,232.4 L228.5,232.4 L229.0,232.4 L229.5,232.4 L230.0,232.4 L230.5,232.4 L231.0,232.5 L231.5,232.5 L232.0,232.5 L232.5,232.5 L233.0,232.5 L233.5,232.5 L234.0,232.5 L234.5,232.5 L235.0,232.5 L235.5,232.5 L236.0,232.5 L236.5,232.5 L237.0,232.5 L237.5,232.5 L238.0,232.5 L238.5,232.5 L239.0,232.5 L239.5,232.5 L240.0,232.5 L240.5,232.5 L241.0,232.5 L241.5,232.5 L242.0,232.5 L242.5,232.5 L243.0,232.5 L243.5,232.5 L244.0,232.6 L244.5,232.6 L245.0,232.6 L245.5,232.6 L246.0,232.6 L246.5,232.6 L247.0,232.6 L247.5,232.6 L248.0,232.6 L248.5,232.6 L249.0,232.6 L249.5,232.6 L250.0,232.6 L250.5,232.6 L251.0,232.6 L251.5,232.6 L252.0,232.6 L252.5,232.7 L253.0,232.7 L253.5,232.7 L254.0,232.7 L254.5,232.7 L255.0,232.7 L255.5,232.7 L256.0,232.7 L256.5,232.7 L257.0,232.7 L257.5,232.7 L258.0,232.7 L258.5,232.8 L259.0,232.8 L259.5,232.8 L260.0,232.8 L260.5,232.8 L261.0,232.8 L261.5,232.8 L262.0,232.8 L262.5,232.8 L263.0,232.8 L263.5,232.8 L264.0,232.9 L264.5,232.9 L265.0,232.9 L265.5,232.9 L266.0,232.9 L266.5,232.9 L267.0,232.9 L267.5,232.9 L268.0,233.0 L268.5,233.0 L269.0,233.0 L269.5,233.0 L270.0,233.0 L270.5,233.1 L271.0,233.2 L271.5,233.5 L272.0,233.8 L272.5,234.0 L273.0,234.3 L273.5,234.4 L274.0,234.5 L274.5,234.4 L275.0,234.3 L275.5,234.0 L276.0,233.8 L276.5,233.5 L277.0,233.2 L277.5,233.1 L278.0,233.0 L278.5,233.0 L279.0,233.0 L279.5,233.0 L280.0,233.0 L280.5,233.0 L281.0,233.0 L281.5,233.0 L282.0,233.0 L282.5,233.0 L283.0,233.0 L283.5,233.0 L284.0,233.0 L284.5,233.0 L285.0,233.0 L285.5,233.0 L286.0,233.0 L286.5,233.0 L287.0,233.0 L287.5,233.0 L288.0,233.0 L288.5,233.0 L289.0,233.0 L289.5,233.0 L290.0,233.0 L290.5,233.0 L291.0,233.0 L291.5,233.0 L292.0,233.0 L292.5,233.0 L293.0,233.0 L293.5,233.0 L294.0,233.0 L294.5,233.0 L295.0,233.0 L295.5,233.0 L296.0,233.0 L296.5,233.0 L297.0,233.0 L297.5,233.0 L298.0,233.0 L298.5,233.0 L299.0,233.0 L299.5,233.0 L300.0,233.0 L300.5,233.0 L301.0,233.0 L301.5,233.0 L302.0,233.0 L302.5,233.0 L303.0,233.0 L303.5,233.0 L304.0,233.0 L304.5,233.0 L305.0,233.0 L305.5,233.0 L306.0,233.0 L306.5,233.0 L307.0,233.0 L307.5,233.0 L308.0,233.0 L308.5,233.0 L309.0,233.0 L309.5,233.0 L310.0,233.0 L310.5,233.0 L311.0,233.0 L311.5,233.0 L312.0,233.0 L312.5,233.0 L313.0,233.0 L313.5,233.0 L314.0,233.0 L314.5,233.0 L315.0,233.0 L315.5,233.0 L316.0,233.0 L316.5,233.0 L317.0,233.0 L317.5,233.0 L318.0,233.0 L318.5,233.0 L319.0,233.0 L319.5,233.0 L320.0,233.0 L320.5,233.0 L321.0,233.0 L321.5,233.0 L322.0,233.0 L322.5,233.0 L323.0,233.0 L323.5,233.0 L324.0,233.0 L324.5,233.0 L325.0,233.0 L325.5,233.0 L326.0,233.0 L326.5,233.0 L327.0,233.0 L327.5,233.0 L328.0,233.0 L328.5,233.0 L329.0,233.0 L329.5,233.0 L330.0,233.0 L330.5,233.0 L331.0,233.0 L331.5,233.0 L332.0,233.0 L332.5,233.0 L333.0,233.0 L333.5,233.0 L334.0,232.9 L334.5,232.9 L335.0,232.9 L335.5,232.9 L336.0,232.9 L336.5,232.9 L337.0,232.9 L337.5,232.8 L338.0,232.8 L338.5,232.8 L339.0,232.8 L339.5,232.8 L340.0,232.7 L340.5,232.7 L341.0,232.7 L341.5,232.7 L342.0,232.7 L342.5,232.6 L343.0,232.6 L343.5,232.6 L344.0,232.6 L344.5,232.6 L345.0,232.5 L345.5,232.5 L346.0,232.5 L346.5,232.5 L347.0,232.5 L347.5,232.5 L348.0,232.5 L348.5,232.4 L349.0,232.4 L349.5,232.4 L350.0,232.4 L350.5,232.4 L351.0,232.4 L351.5,232.4 L352.0,232.4 L352.5,232.4 L353.0,232.4 L353.5,232.4 L354.0,232.5 L354.5,232.5 L355.0,232.5 L355.5,232.6 L356.0,232.6 L356.5,232.7 L357.0,232.7 L357.5,232.8 L358.0,232.8 L358.5,232.9 L359.0,233.0 L359.5,233.1 L360.0,233.2 L360.5,233.2 L361.0,233.3 L361.5,233.4 L362.0,233.5 L362.5,233.6 L363.0,233.7 L363.5,233.8 L364.0,233.9 L364.5,234.1 L365.0,234.2 L365.5,234.3 L366.0,234.4 L366.5,234.5 L367.0,234.8 L367.5,235.0 L368.0,235.3 L368.5,235.6 L369.0,235.9 L369.5,236.3 L370.0,236.6 L370.5,237.0 L371.0,237.3 L371.5,237.6 L372.0,237.9 L372.5,238.1 L373.0,238.3 L373.5,238.4 L374.0,238.4 L374.5,238.3 L375.0,238.0 L375.5,237.5 L376.0,237.0 L376.5,236.5 L377.0,236.0 L377.5,235.5 L378.0,234.9 L378.5,234.3 L379.0,233.8 L379.5,233.3 L380.0,233.0 L380.5,232.8 L381.0,232.6 L381.5,232.4 L382.0,232.3 L382.5,232.1 L383.0,232.0 L383.5,231.8 L384.0,231.7 L384.5,231.5 L385.0,231.4 L385.5,231.3 L386.0,231.2 L386.5,231.1 L387.0,231.0 L387.5,230.9 L388.0,230.8 L388.5,230.7 L389.0,230.7 L389.5,230.6 L390.0,230.5 L390.5,230.5 L391.0,230.5 L391.5,230.4 L392.0,230.4 L392.5,230.4 L393.0,230.4 L393.5,230.5 L394.0,230.9 L394.5,231.5 L395.0,232.2 L395.5,233.0 L396.0,233.8 L396.5,234.5 L397.0,235.1 L397.5,235.5 L398.0,235.6 L398.5,235.5 L399.0,235.1 L399.5,234.6 L400.0,233.9 L400.5,233.2 L401.0,232.4 L401.5,231.6 L402.0,231.0 L402.5,230.4 L403.0,230.0 L403.5,229.7 L404.0,229.4 L404.5,229.1 L405.0,228.8 L405.5,228.6 L406.0,228.4 L406.5,228.1 L407.0,228.0 L407.5,227.8 L408.0,227.7 L408.5,227.6 L409.0,227.6 L409.5,227.7 L410.0,227.8 L410.5,228.1 L411.0,228.5 L411.5,228.9 L412.0,229.5 L412.5,230.0 L413.0,230.7 L413.5,231.3 L414.0,232.0 L414.5,232.8 L415.0,233.9 L415.5,235.2 L416.0,236.7 L416.5,238.4 L417.0,240.2 L417.5,242.1 L418.0,244.0 L418.5,246.1 L419.0,248.4 L419.5,251.0 L420.0,253.8 L420.5,256.8 L421.0,260.0 L421.5,263.8 L422.0,268.3 L422.5,272.9 L423.0,277.0 L423.5,280.5 L424.0,283.6 L424.5,286.7 L425.0,290.0 L425.5,293.6 L426.0,297.4 L426.5,301.3 L427.0,305.2 L427.5,309.2 L428.0,313.0 L428.5,316.6 L429.0,320.0 L429.5,323.2 L430.0,326.4 L430.5,329.6 L431.0,332.7 L431.5,335.7 L432.0,338.5 L432.5,341.2 L433.0,343.7 L433.5,346.0 L434.0,348.0 L434.5,349.9 L435.0,351.8 L435.5,353.2 L436.0,354.0 L436.5,354.3 L437.0,354.4 L437.5,354.5 L438.0,354.6 L438.5,354.8 L439.0,355.0 L439.5,355.9 L440.0,357.7 L440.5,360.1 L441.0,362.8 L441.5,365.5 L442.0,368.2 L442.5,371.3 L443.0,374.4 L443.5,377.3 L444.0,380.1 L444.5,382.6 L445.0,384.5 L445.5,386.2 L446.0,387.4 L446.5,388.2 L447.0,388.8 L447.5,389.0 L448.0,388.8 L448.5,388.2 L449.0,387.4 L449.5,386.2 L450.0,384.5 L450.5,382.6 L451.0,380.4 L451.5,377.7 L452.0,374.2 L452.5,369.1 L453.0,362.7 L453.5,356.2 L454.0,350.2 L454.5,344.0 L455.0,337.9 L455.5,332.1 L456.0,327.0 L456.5,322.5 L457.0,318.0 L457.5,312.9 L458.0,306.5 L458.5,299.8 L459.0,293.7 L459.5,288.4 L460.0,282.6 L460.5,276.0 L461.0,267.8 L461.5,257.8 L462.0,245.5 L462.5,241.7 L463.0,240.2 L463.5,239.3 L464.0,238.5 L464.5,237.7 L465.0,237.1 L465.5,236.5 L466.0,236.0 L466.5,235.5 L467.0,234.9 L467.5,234.3 L468.0,233.6 L468.5,232.8 L469.0,231.9 L469.5,231.1 L470.0,230.2 L470.5,229.2 L471.0,228.2 L471.5,227.2 L472.0,226.0 L472.5,224.5 L473.0,222.9 L473.5,221.3 L474.0,219.7 L474.5,218.2 L475.0,217.0 L475.5,216.0 L476.0,215.5 L476.5,215.5 L477.0,216.0 L477.5,217.1 L478.0,218.6 L478.5,220.4 L479.0,222.3 L479.5,224.4 L480.0,226.4 L480.5,228.7 L481.0,231.4 L481.5,234.5 L482.0,238.0 L482.5,242.0 L483.0,246.6 L483.5,252.9 L484.0,260.5 L484.5,268.9 L485.0,277.6 L485.5,287.6 L486.0,297.6 L486.5,306.0 L487.0,309.3 L487.5,309.1 L488.0,306.7 L488.5,302.2 L489.0,298.9 L489.5,295.4 L490.0,289.9 L490.5,282.1 L491.0,274.4 L491.5,266.9 L492.0,260.4 L492.5,254.6 L493.0,250.0 L493.5,246.4 L494.0,243.4 L494.5,241.1 L495.0,239.3 L495.5,237.7 L496.0,236.4 L496.5,235.5 L497.0,234.8 L497.5,234.2 L498.0,233.7 L498.5,233.3 L499.0,233.0 L499.5,232.8 L500.0,232.7 L500.5,232.6 L501.0,232.5 L501.5,232.4 L502.0,232.4 L502.5,232.6 L503.0,233.0 L503.5,233.5 L504.0,233.9 L504.5,234.0 L505.0,233.4 L505.5,232.5 L506.0,232.0 L506.5,232.3 L507.0,233.1 L507.5,234.2 L508.0,235.5 L508.5,236.8 L509.0,237.9 L509.5,238.7 L510.0,239.0 L510.5,238.9 L511.0,238.6 L511.5,238.2 L512.0,237.7 L512.5,237.2 L513.0,236.8 L513.5,236.5 L514.0,236.4 L514.5,236.4 L515.0,236.6 L515.5,236.7 L516.0,237.0 L516.5,237.2 L517.0,237.4 L517.5,237.7 L518.0,237.8 L518.5,238.0 L519.0,238.0 L519.5,237.9 L520.0,237.8 L520.5,237.5 L521.0,237.2 L521.5,236.8 L522.0,236.4 L522.5,236.1 L523.0,235.8 L523.5,235.7 L524.0,235.6 L524.5,235.9 L525.0,236.7 L525.5,237.9 L526.0,240.3 L526.5,246.0 L527.0,253.1 L527.5,262.9 L528.0,272.5 L528.5,280.1 L529.0,287.1 L529.5,294.6 L530.0,302.3 L530.5,309.3 L531.0,315.7 L531.5,321.0 L532.0,325.1 L532.5,328.0 L533.0,329.6 L533.5,330.2 L534.0,329.0 L534.5,327.1 L535.0,323.6 L535.5,319.1 L536.0,313.2 L536.5,306.6 L537.0,299.2 L537.5,291.5 L538.0,284.1 L538.5,276.7 L539.0,269.7 L539.5,263.0 L540.0,256.5" fill="none" stroke="#c8900a" stroke-width="3.6" stroke-linejoin="round" stroke-linecap="round"/>
<line x1="393.6" y1="51.6" x2="425.6" y2="76" stroke="#000" stroke-width="2"/>
<line x1="470.2" y1="175.5" x2="470.2" y2="279" stroke="#000" stroke-width="2"/>
<path d="M49.85,3.9H544.4M49.85,417.75H544.4" stroke="#000" stroke-width="2.1" fill="none"/>
<path d="M49.85,417.8H544.4" stroke="#000" stroke-width="2.5" fill="none"/>
<path d="M51.05,2.9V419M543.2,2.9V419" stroke="#000" stroke-width="2.4" fill="none"/>
<line x1="51.2" y1="418" x2="51.2" y2="430" stroke="#000" stroke-width="2.4"/>
<line x1="119.6" y1="418" x2="119.6" y2="430" stroke="#000" stroke-width="2.4"/>
<line x1="187.9" y1="418" x2="187.9" y2="430" stroke="#000" stroke-width="2.4"/>
<line x1="256.3" y1="418" x2="256.3" y2="430" stroke="#000" stroke-width="2.4"/>
<line x1="324.7" y1="418" x2="324.7" y2="430" stroke="#000" stroke-width="2.4"/>
<line x1="393.1" y1="418" x2="393.1" y2="430" stroke="#000" stroke-width="2.4"/>
<line x1="461.5" y1="418" x2="461.5" y2="430" stroke="#000" stroke-width="2.4"/>
<line x1="529.8" y1="418" x2="529.8" y2="430" stroke="#000" stroke-width="2.4"/>
<line x1="85.4" y1="418" x2="85.4" y2="423.6" stroke="#000" stroke-width="2.4"/>
<line x1="153.8" y1="418" x2="153.8" y2="423.6" stroke="#000" stroke-width="2.4"/>
<line x1="222.1" y1="418" x2="222.1" y2="423.6" stroke="#000" stroke-width="2.4"/>
<line x1="290.5" y1="418" x2="290.5" y2="423.6" stroke="#000" stroke-width="2.4"/>
<line x1="358.9" y1="418" x2="358.9" y2="423.6" stroke="#000" stroke-width="2.4"/>
<line x1="427.3" y1="418" x2="427.3" y2="423.6" stroke="#000" stroke-width="2.4"/>
<line x1="495.6" y1="418" x2="495.6" y2="423.6" stroke="#000" stroke-width="2.4"/>
<g font-family="'Liberation Serif', 'Times New Roman', serif" fill="#000" stroke="#000" stroke-width="0.1" style="font-kerning:none">
<text x="50.8" y="452.9" font-size="17.8" text-anchor="middle">4000</text>
<text x="119.2" y="452.9" font-size="17.8" text-anchor="middle">3500</text>
<text x="187.5" y="452.9" font-size="17.8" text-anchor="middle">3000</text>
<text x="255.9" y="452.9" font-size="17.8" text-anchor="middle">2500</text>
<text x="324.3" y="452.9" font-size="17.8" text-anchor="middle">2000</text>
<text x="392.7" y="452.9" font-size="17.8" text-anchor="middle">1500</text>
<text x="461.1" y="452.9" font-size="17.8" text-anchor="middle">1000</text>
<text x="529.4" y="452.9" font-size="17.8" text-anchor="middle">500</text>
<text x="297" y="480.3" font-size="20.7" text-anchor="middle">W<tspan dx="1.8">avenumber/cm</tspan><tspan font-size="14" dy="-8.8">-1</tspan></text>
<text transform="translate(20,211.1) rotate(-90)" font-size="20.8" text-anchor="middle">T<tspan dx="1">ransmittance/a.u</tspan></text>
<text x="360" y="57" font-size="15" stroke-width="0.25">1250</text>
<text x="93.4" y="259.6" font-size="15.4" stroke-width="0.25">3200–3680</text>
<text x="155" y="283.4" font-size="15.15" stroke-width="0.25">2900–3000</text>
<text x="355.1" y="256.3" font-size="15" stroke-width="0.25">1638</text>
<text x="462" y="295.6" font-size="15" stroke-width="0.25">936</text>
<text x="479.6" y="327.6" font-size="15" stroke-width="0.25">815</text>
<text x="517.4" y="347" font-size="15" stroke-width="0.25">470</text>
<text x="425.4" y="398.8" font-size="15" stroke-width="0.25">1100</text>
<line x1="240.5" y1="265" x2="281.5" y2="265" stroke="#4b4b4b" stroke-width="3.6" stroke-linecap="round"/>
<text x="286.4" y="271.8" font-size="18.6">HMDS</text>
<line x1="240.5" y1="288" x2="281.5" y2="288" stroke="#ee3535" stroke-width="3.6" stroke-linecap="round"/>
<text x="286.4" y="294.8" font-size="18.6">o-S</text>
<line x1="240.5" y1="311.6" x2="281.5" y2="311.6" stroke="#1a66e0" stroke-width="3.6" stroke-linecap="round"/>
<text x="287" y="317.8" font-size="18.6">S<tspan font-size="12.6" dy="5.5">10HMDS</tspan></text>
<line x1="240.5" y1="339" x2="281.5" y2="339" stroke="#2faa68" stroke-width="3.6" stroke-linecap="round"/>
<text x="287" y="345.2" font-size="18.6">S<tspan font-size="12.6" dy="5.5">15HMDS</tspan></text>
<line x1="240.5" y1="366.2" x2="281.5" y2="366.2" stroke="#b070e8" stroke-width="3.6" stroke-linecap="round"/>
<text x="287" y="372.4" font-size="18.6">S<tspan font-size="12.6" dy="5.5">20HMDS</tspan></text>
<line x1="240.5" y1="393.4" x2="281.5" y2="393.4" stroke="#c8900a" stroke-width="3.6" stroke-linecap="round"/>
<text x="287" y="399.6" font-size="18.6">S<tspan font-size="12.6" dy="5.5">25HMDS</tspan></text>
</g>
</svg>
</body></html>
